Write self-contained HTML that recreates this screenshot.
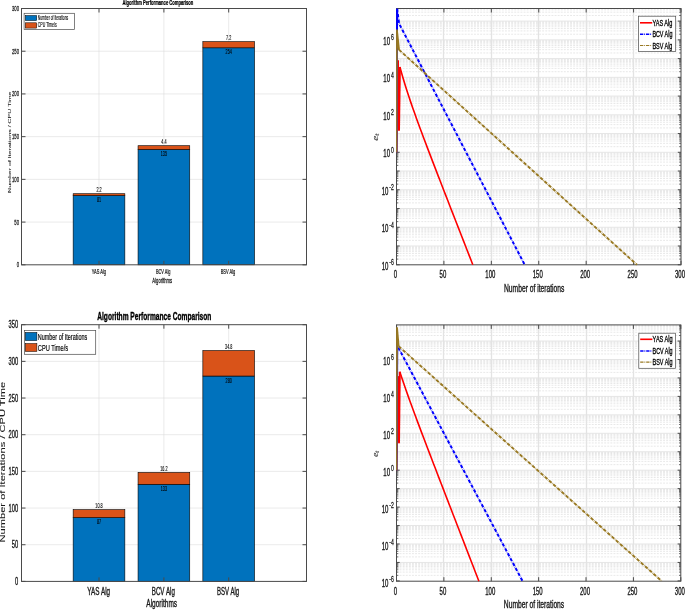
<!DOCTYPE html><html><head><meta charset="utf-8"><title>Algorithm Performance Comparison</title><style>html,body{margin:0;padding:0;background:#fff}svg{display:block}</style></head><body>
<svg width="685" height="611" viewBox="0 0 685 611">
<rect width="685" height="611" fill="#fff"/>
<line x1="21.5" y1="222.08" x2="306.5" y2="222.08" stroke="#dcdcdc" stroke-width="0.6"/>
<line x1="21.5" y1="179.37" x2="306.5" y2="179.37" stroke="#dcdcdc" stroke-width="0.6"/>
<line x1="21.5" y1="136.65" x2="306.5" y2="136.65" stroke="#dcdcdc" stroke-width="0.6"/>
<line x1="21.5" y1="93.93" x2="306.5" y2="93.93" stroke="#dcdcdc" stroke-width="0.6"/>
<line x1="21.5" y1="51.22" x2="306.5" y2="51.22" stroke="#dcdcdc" stroke-width="0.6"/>
<line x1="99.0" y1="8.5" x2="99.0" y2="264.8" stroke="#dcdcdc" stroke-width="0.6"/>
<line x1="163.9" y1="8.5" x2="163.9" y2="264.8" stroke="#dcdcdc" stroke-width="0.6"/>
<line x1="228.7" y1="8.5" x2="228.7" y2="264.8" stroke="#dcdcdc" stroke-width="0.6"/>
<rect x="73.15" y="195.60" width="51.7" height="69.20" fill="#0072BD" stroke="#000" stroke-width="0.6"/>
<rect x="73.15" y="193.72" width="51.7" height="1.88" fill="#D95319" stroke="#000" stroke-width="0.6"/>
<text transform="translate(99.00,191.72) scale(0.5500,1.0)" font-family='"Liberation Sans", sans-serif' font-size="6.8" text-anchor="middle" fill="#000" stroke="#000" stroke-width="0.12">2.2</text>
<text transform="translate(99.00,202.00) scale(0.5500,1.0)" font-family='"Liberation Sans", sans-serif' font-size="6.8" text-anchor="middle" fill="#000" stroke="#000" stroke-width="0.12">81</text>
<rect x="138.05" y="149.47" width="51.7" height="115.34" fill="#0072BD" stroke="#000" stroke-width="0.6"/>
<rect x="138.05" y="145.71" width="51.7" height="3.76" fill="#D95319" stroke="#000" stroke-width="0.6"/>
<text transform="translate(163.90,143.71) scale(0.5500,1.0)" font-family='"Liberation Sans", sans-serif' font-size="6.8" text-anchor="middle" fill="#000" stroke="#000" stroke-width="0.12">4.4</text>
<text transform="translate(163.90,155.87) scale(0.5500,1.0)" font-family='"Liberation Sans", sans-serif' font-size="6.8" text-anchor="middle" fill="#000" stroke="#000" stroke-width="0.12">135</text>
<rect x="202.85" y="47.80" width="51.7" height="217.00" fill="#0072BD" stroke="#000" stroke-width="0.6"/>
<rect x="202.85" y="41.65" width="51.7" height="6.15" fill="#D95319" stroke="#000" stroke-width="0.6"/>
<text transform="translate(228.70,39.65) scale(0.5500,1.0)" font-family='"Liberation Sans", sans-serif' font-size="6.8" text-anchor="middle" fill="#000" stroke="#000" stroke-width="0.12">7.2</text>
<text transform="translate(228.70,54.20) scale(0.5500,1.0)" font-family='"Liberation Sans", sans-serif' font-size="6.8" text-anchor="middle" fill="#000" stroke="#000" stroke-width="0.12">254</text>
<rect x="21.5" y="8.5" width="285.0" height="256.3" fill="none" stroke="#4a4a4a" stroke-width="1.0"/>
<line x1="21.5" y1="264.80" x2="25.5" y2="264.80" stroke="#4a4a4a" stroke-width="1.0"/>
<line x1="306.5" y1="264.80" x2="302.5" y2="264.80" stroke="#4a4a4a" stroke-width="1.0"/>
<text transform="translate(19.00,267.34) scale(0.5900,1.0)" font-family='"Liberation Sans", sans-serif' font-size="7.1" text-anchor="end" fill="#1a1a1a" stroke="#1a1a1a" stroke-width="0.256">0</text>
<line x1="21.5" y1="222.08" x2="25.5" y2="222.08" stroke="#4a4a4a" stroke-width="1.0"/>
<line x1="306.5" y1="222.08" x2="302.5" y2="222.08" stroke="#4a4a4a" stroke-width="1.0"/>
<text transform="translate(19.00,224.63) scale(0.5900,1.0)" font-family='"Liberation Sans", sans-serif' font-size="7.1" text-anchor="end" fill="#1a1a1a" stroke="#1a1a1a" stroke-width="0.256">50</text>
<line x1="21.5" y1="179.37" x2="25.5" y2="179.37" stroke="#4a4a4a" stroke-width="1.0"/>
<line x1="306.5" y1="179.37" x2="302.5" y2="179.37" stroke="#4a4a4a" stroke-width="1.0"/>
<text transform="translate(19.00,181.91) scale(0.5900,1.0)" font-family='"Liberation Sans", sans-serif' font-size="7.1" text-anchor="end" fill="#1a1a1a" stroke="#1a1a1a" stroke-width="0.256">100</text>
<line x1="21.5" y1="136.65" x2="25.5" y2="136.65" stroke="#4a4a4a" stroke-width="1.0"/>
<line x1="306.5" y1="136.65" x2="302.5" y2="136.65" stroke="#4a4a4a" stroke-width="1.0"/>
<text transform="translate(19.00,139.19) scale(0.5900,1.0)" font-family='"Liberation Sans", sans-serif' font-size="7.1" text-anchor="end" fill="#1a1a1a" stroke="#1a1a1a" stroke-width="0.256">150</text>
<line x1="21.5" y1="93.93" x2="25.5" y2="93.93" stroke="#4a4a4a" stroke-width="1.0"/>
<line x1="306.5" y1="93.93" x2="302.5" y2="93.93" stroke="#4a4a4a" stroke-width="1.0"/>
<text transform="translate(19.00,96.48) scale(0.5900,1.0)" font-family='"Liberation Sans", sans-serif' font-size="7.1" text-anchor="end" fill="#1a1a1a" stroke="#1a1a1a" stroke-width="0.256">200</text>
<line x1="21.5" y1="51.22" x2="25.5" y2="51.22" stroke="#4a4a4a" stroke-width="1.0"/>
<line x1="306.5" y1="51.22" x2="302.5" y2="51.22" stroke="#4a4a4a" stroke-width="1.0"/>
<text transform="translate(19.00,53.76) scale(0.5900,1.0)" font-family='"Liberation Sans", sans-serif' font-size="7.1" text-anchor="end" fill="#1a1a1a" stroke="#1a1a1a" stroke-width="0.256">250</text>
<line x1="21.5" y1="8.50" x2="25.5" y2="8.50" stroke="#4a4a4a" stroke-width="1.0"/>
<line x1="306.5" y1="8.50" x2="302.5" y2="8.50" stroke="#4a4a4a" stroke-width="1.0"/>
<text transform="translate(19.00,11.04) scale(0.5900,1.0)" font-family='"Liberation Sans", sans-serif' font-size="7.1" text-anchor="end" fill="#1a1a1a" stroke="#1a1a1a" stroke-width="0.256">300</text>
<line x1="99.0" y1="264.8" x2="99.0" y2="260.8" stroke="#4a4a4a" stroke-width="1.0"/>
<line x1="99.0" y1="8.5" x2="99.0" y2="12.5" stroke="#4a4a4a" stroke-width="1.0"/>
<text transform="translate(98.80,273.80) scale(0.5765,1.0)" font-family='"Liberation Sans", sans-serif' font-size="6.9" text-anchor="middle" fill="#1a1a1a" stroke="#1a1a1a" stroke-width="0.248">YAS Alg</text>
<line x1="163.9" y1="264.8" x2="163.9" y2="260.8" stroke="#4a4a4a" stroke-width="1.0"/>
<line x1="163.9" y1="8.5" x2="163.9" y2="12.5" stroke="#4a4a4a" stroke-width="1.0"/>
<text transform="translate(163.20,273.80) scale(0.5604,1.0)" font-family='"Liberation Sans", sans-serif' font-size="6.9" text-anchor="middle" fill="#1a1a1a" stroke="#1a1a1a" stroke-width="0.248">BCV Alg</text>
<line x1="228.7" y1="264.8" x2="228.7" y2="260.8" stroke="#4a4a4a" stroke-width="1.0"/>
<line x1="228.7" y1="8.5" x2="228.7" y2="12.5" stroke="#4a4a4a" stroke-width="1.0"/>
<text transform="translate(228.00,273.80) scale(0.5767,1.0)" font-family='"Liberation Sans", sans-serif' font-size="6.9" text-anchor="middle" fill="#1a1a1a" stroke="#1a1a1a" stroke-width="0.248">BSV Alg</text>
<text transform="translate(162.20,282.70) scale(0.5636,1.0)" font-family='"Liberation Sans", sans-serif' font-size="7.4" text-anchor="middle" fill="#1a1a1a" stroke="#1a1a1a" stroke-width="0.266">Algorithms</text>
<text transform="translate(157.90,5.10) scale(0.6062,1.0)" font-family='"Liberation Sans", sans-serif' font-size="6.8" font-weight="bold" text-anchor="middle" fill="#000" stroke="#000" stroke-width="0.245">Algorithm Performance Comparison</text>
<text transform="translate(10.80,142.20) rotate(-90) scale(1.0002,0.58)" font-family='"Liberation Sans", sans-serif' font-size="7.03" text-anchor="middle" fill="#1a1a1a" stroke="#1a1a1a" stroke-width="0.12">Number of Iterations / CPU Time</text>
<rect x="24.1" y="13.3" width="50.49999999999999" height="16.3" fill="#fff" stroke="#4a4a4a" stroke-width="0.7"/>
<rect x="25.3" y="15.5" width="11.40" height="5.10" fill="#0072BD" stroke="#000" stroke-width="0.5"/>
<text transform="translate(37.80,20.20) scale(0.5344,1.0)" font-family='"Liberation Sans", sans-serif' font-size="6.3" text-anchor="start" fill="#000" stroke="#000" stroke-width="0.126">Number of Iterations</text>
<rect x="25.3" y="22.8" width="11.40" height="5.30" fill="#D95319" stroke="#000" stroke-width="0.5"/>
<text transform="translate(37.80,27.40) scale(0.5624,1.0)" font-family='"Liberation Sans", sans-serif' font-size="6.3" text-anchor="start" fill="#000" stroke="#000" stroke-width="0.126">CPU Time/s</text>
<line x1="21.5" y1="544.73" x2="306.5" y2="544.73" stroke="#dcdcdc" stroke-width="0.6"/>
<line x1="21.5" y1="508.06" x2="306.5" y2="508.06" stroke="#dcdcdc" stroke-width="0.6"/>
<line x1="21.5" y1="471.39" x2="306.5" y2="471.39" stroke="#dcdcdc" stroke-width="0.6"/>
<line x1="21.5" y1="434.71" x2="306.5" y2="434.71" stroke="#dcdcdc" stroke-width="0.6"/>
<line x1="21.5" y1="398.04" x2="306.5" y2="398.04" stroke="#dcdcdc" stroke-width="0.6"/>
<line x1="21.5" y1="361.37" x2="306.5" y2="361.37" stroke="#dcdcdc" stroke-width="0.6"/>
<line x1="99.0" y1="324.7" x2="99.0" y2="581.4" stroke="#dcdcdc" stroke-width="0.6"/>
<line x1="163.9" y1="324.7" x2="163.9" y2="581.4" stroke="#dcdcdc" stroke-width="0.6"/>
<line x1="228.7" y1="324.7" x2="228.7" y2="581.4" stroke="#dcdcdc" stroke-width="0.6"/>
<rect x="73.15" y="517.59" width="51.7" height="63.81" fill="#0072BD" stroke="#000" stroke-width="0.6"/>
<rect x="73.15" y="509.67" width="51.7" height="7.92" fill="#D95319" stroke="#000" stroke-width="0.6"/>
<text transform="translate(99.00,508.37) scale(0.5500,1.0)" font-family='"Liberation Sans", sans-serif' font-size="6.8" text-anchor="middle" fill="#000" stroke="#000" stroke-width="0.12">10.8</text>
<text transform="translate(99.00,524.09) scale(0.5500,1.0)" font-family='"Liberation Sans", sans-serif' font-size="6.8" text-anchor="middle" fill="#000" stroke="#000" stroke-width="0.12">87</text>
<rect x="138.05" y="484.29" width="51.7" height="97.11" fill="#0072BD" stroke="#000" stroke-width="0.6"/>
<rect x="138.05" y="472.41" width="51.7" height="11.88" fill="#D95319" stroke="#000" stroke-width="0.6"/>
<text transform="translate(163.90,471.11) scale(0.5500,1.0)" font-family='"Liberation Sans", sans-serif' font-size="6.8" text-anchor="middle" fill="#000" stroke="#000" stroke-width="0.12">16.2</text>
<text transform="translate(163.90,490.79) scale(0.5500,1.0)" font-family='"Liberation Sans", sans-serif' font-size="6.8" text-anchor="middle" fill="#000" stroke="#000" stroke-width="0.12">133</text>
<rect x="202.85" y="376.04" width="51.7" height="205.36" fill="#0072BD" stroke="#000" stroke-width="0.6"/>
<rect x="202.85" y="350.52" width="51.7" height="25.52" fill="#D95319" stroke="#000" stroke-width="0.6"/>
<text transform="translate(228.70,349.22) scale(0.5500,1.0)" font-family='"Liberation Sans", sans-serif' font-size="6.8" text-anchor="middle" fill="#000" stroke="#000" stroke-width="0.12">34.8</text>
<text transform="translate(228.70,382.54) scale(0.5500,1.0)" font-family='"Liberation Sans", sans-serif' font-size="6.8" text-anchor="middle" fill="#000" stroke="#000" stroke-width="0.12">280</text>
<rect x="21.5" y="324.7" width="285.0" height="256.7" fill="none" stroke="#4a4a4a" stroke-width="1.0"/>
<line x1="21.5" y1="581.40" x2="25.5" y2="581.40" stroke="#4a4a4a" stroke-width="1.0"/>
<line x1="306.5" y1="581.40" x2="302.5" y2="581.40" stroke="#4a4a4a" stroke-width="1.0"/>
<text transform="translate(18.20,585.05) scale(0.5650,1.0)" font-family='"Liberation Sans", sans-serif' font-size="10.2" text-anchor="end" fill="#1a1a1a" stroke="#1a1a1a" stroke-width="0.367">0</text>
<line x1="21.5" y1="544.73" x2="25.5" y2="544.73" stroke="#4a4a4a" stroke-width="1.0"/>
<line x1="306.5" y1="544.73" x2="302.5" y2="544.73" stroke="#4a4a4a" stroke-width="1.0"/>
<text transform="translate(18.20,548.38) scale(0.5650,1.0)" font-family='"Liberation Sans", sans-serif' font-size="10.2" text-anchor="end" fill="#1a1a1a" stroke="#1a1a1a" stroke-width="0.367">50</text>
<line x1="21.5" y1="508.06" x2="25.5" y2="508.06" stroke="#4a4a4a" stroke-width="1.0"/>
<line x1="306.5" y1="508.06" x2="302.5" y2="508.06" stroke="#4a4a4a" stroke-width="1.0"/>
<text transform="translate(18.20,511.71) scale(0.5650,1.0)" font-family='"Liberation Sans", sans-serif' font-size="10.2" text-anchor="end" fill="#1a1a1a" stroke="#1a1a1a" stroke-width="0.367">100</text>
<line x1="21.5" y1="471.39" x2="25.5" y2="471.39" stroke="#4a4a4a" stroke-width="1.0"/>
<line x1="306.5" y1="471.39" x2="302.5" y2="471.39" stroke="#4a4a4a" stroke-width="1.0"/>
<text transform="translate(18.20,475.04) scale(0.5650,1.0)" font-family='"Liberation Sans", sans-serif' font-size="10.2" text-anchor="end" fill="#1a1a1a" stroke="#1a1a1a" stroke-width="0.367">150</text>
<line x1="21.5" y1="434.71" x2="25.5" y2="434.71" stroke="#4a4a4a" stroke-width="1.0"/>
<line x1="306.5" y1="434.71" x2="302.5" y2="434.71" stroke="#4a4a4a" stroke-width="1.0"/>
<text transform="translate(18.20,438.37) scale(0.5650,1.0)" font-family='"Liberation Sans", sans-serif' font-size="10.2" text-anchor="end" fill="#1a1a1a" stroke="#1a1a1a" stroke-width="0.367">200</text>
<line x1="21.5" y1="398.04" x2="25.5" y2="398.04" stroke="#4a4a4a" stroke-width="1.0"/>
<line x1="306.5" y1="398.04" x2="302.5" y2="398.04" stroke="#4a4a4a" stroke-width="1.0"/>
<text transform="translate(18.20,401.69) scale(0.5650,1.0)" font-family='"Liberation Sans", sans-serif' font-size="10.2" text-anchor="end" fill="#1a1a1a" stroke="#1a1a1a" stroke-width="0.367">250</text>
<line x1="21.5" y1="361.37" x2="25.5" y2="361.37" stroke="#4a4a4a" stroke-width="1.0"/>
<line x1="306.5" y1="361.37" x2="302.5" y2="361.37" stroke="#4a4a4a" stroke-width="1.0"/>
<text transform="translate(18.20,365.02) scale(0.5650,1.0)" font-family='"Liberation Sans", sans-serif' font-size="10.2" text-anchor="end" fill="#1a1a1a" stroke="#1a1a1a" stroke-width="0.367">300</text>
<line x1="21.5" y1="324.70" x2="25.5" y2="324.70" stroke="#4a4a4a" stroke-width="1.0"/>
<line x1="306.5" y1="324.70" x2="302.5" y2="324.70" stroke="#4a4a4a" stroke-width="1.0"/>
<text transform="translate(18.20,328.35) scale(0.5650,1.0)" font-family='"Liberation Sans", sans-serif' font-size="10.2" text-anchor="end" fill="#1a1a1a" stroke="#1a1a1a" stroke-width="0.367">350</text>
<line x1="99.0" y1="581.4" x2="99.0" y2="577.4" stroke="#4a4a4a" stroke-width="1.0"/>
<line x1="99.0" y1="324.7" x2="99.0" y2="328.7" stroke="#4a4a4a" stroke-width="1.0"/>
<text transform="translate(98.70,594.50) scale(0.6158,1.0)" font-family='"Liberation Sans", sans-serif' font-size="10.3" text-anchor="middle" fill="#1a1a1a" stroke="#1a1a1a" stroke-width="0.371">YAS Alg</text>
<line x1="163.9" y1="581.4" x2="163.9" y2="577.4" stroke="#4a4a4a" stroke-width="1.0"/>
<line x1="163.9" y1="324.7" x2="163.9" y2="328.7" stroke="#4a4a4a" stroke-width="1.0"/>
<text transform="translate(163.30,594.50) scale(0.6022,1.0)" font-family='"Liberation Sans", sans-serif' font-size="10.3" text-anchor="middle" fill="#1a1a1a" stroke="#1a1a1a" stroke-width="0.371">BCV Alg</text>
<line x1="228.7" y1="581.4" x2="228.7" y2="577.4" stroke="#4a4a4a" stroke-width="1.0"/>
<line x1="228.7" y1="324.7" x2="228.7" y2="328.7" stroke="#4a4a4a" stroke-width="1.0"/>
<text transform="translate(228.10,594.50) scale(0.5874,1.0)" font-family='"Liberation Sans", sans-serif' font-size="10.3" text-anchor="middle" fill="#1a1a1a" stroke="#1a1a1a" stroke-width="0.371">BSV Alg</text>
<text transform="translate(161.70,606.90) scale(0.6037,1.0)" font-family='"Liberation Sans", sans-serif' font-size="10.8" text-anchor="middle" fill="#1a1a1a" stroke="#1a1a1a" stroke-width="0.389">Algorithms</text>
<text transform="translate(154.30,319.80) scale(0.6260,1.0)" font-family='"Liberation Sans", sans-serif' font-size="10.6" font-weight="bold" text-anchor="middle" fill="#000" stroke="#000" stroke-width="0.382">Algorithm Performance Comparison</text>
<text transform="translate(5.40,462.20) rotate(-90) scale(1.0026,0.58)" font-family='"Liberation Sans", sans-serif' font-size="11.1" text-anchor="middle" fill="#1a1a1a" stroke="#1a1a1a" stroke-width="0.12">Number of Iterations / CPU Time</text>
<rect x="24.4" y="330.4" width="71.30000000000001" height="23.900000000000034" fill="#fff" stroke="#4a4a4a" stroke-width="0.7"/>
<rect x="25.3" y="332.4" width="11.60" height="8.20" fill="#0072BD" stroke="#000" stroke-width="0.5"/>
<text transform="translate(37.80,339.70) scale(0.6059,1.0)" font-family='"Liberation Sans", sans-serif' font-size="9.0" text-anchor="start" fill="#000" stroke="#000" stroke-width="0.18">Number of Iterations</text>
<rect x="25.3" y="343.5" width="11.60" height="8.00" fill="#D95319" stroke="#000" stroke-width="0.5"/>
<text transform="translate(37.80,350.70) scale(0.6312,1.0)" font-family='"Liberation Sans", sans-serif' font-size="9.0" text-anchor="start" fill="#000" stroke="#000" stroke-width="0.18">CPU Time/s</text>
<line x1="396.5" y1="259.10" x2="681.0" y2="259.10" stroke="#d0d0d0" stroke-width="0.5" stroke-dasharray="1.9 1.2"/>
<line x1="396.5" y1="255.80" x2="681.0" y2="255.80" stroke="#d0d0d0" stroke-width="0.5" stroke-dasharray="1.9 1.2"/>
<line x1="396.5" y1="253.46" x2="681.0" y2="253.46" stroke="#d0d0d0" stroke-width="0.5" stroke-dasharray="1.9 1.2"/>
<line x1="396.5" y1="251.64" x2="681.0" y2="251.64" stroke="#d0d0d0" stroke-width="0.5" stroke-dasharray="1.9 1.2"/>
<line x1="396.5" y1="250.16" x2="681.0" y2="250.16" stroke="#d0d0d0" stroke-width="0.5" stroke-dasharray="1.9 1.2"/>
<line x1="396.5" y1="248.90" x2="681.0" y2="248.90" stroke="#d0d0d0" stroke-width="0.5" stroke-dasharray="1.9 1.2"/>
<line x1="396.5" y1="247.82" x2="681.0" y2="247.82" stroke="#d0d0d0" stroke-width="0.5" stroke-dasharray="1.9 1.2"/>
<line x1="396.5" y1="246.86" x2="681.0" y2="246.86" stroke="#d0d0d0" stroke-width="0.5" stroke-dasharray="1.9 1.2"/>
<line x1="396.5" y1="240.36" x2="681.0" y2="240.36" stroke="#d0d0d0" stroke-width="0.5" stroke-dasharray="1.9 1.2"/>
<line x1="396.5" y1="237.06" x2="681.0" y2="237.06" stroke="#d0d0d0" stroke-width="0.5" stroke-dasharray="1.9 1.2"/>
<line x1="396.5" y1="234.72" x2="681.0" y2="234.72" stroke="#d0d0d0" stroke-width="0.5" stroke-dasharray="1.9 1.2"/>
<line x1="396.5" y1="232.90" x2="681.0" y2="232.90" stroke="#d0d0d0" stroke-width="0.5" stroke-dasharray="1.9 1.2"/>
<line x1="396.5" y1="231.42" x2="681.0" y2="231.42" stroke="#d0d0d0" stroke-width="0.5" stroke-dasharray="1.9 1.2"/>
<line x1="396.5" y1="230.16" x2="681.0" y2="230.16" stroke="#d0d0d0" stroke-width="0.5" stroke-dasharray="1.9 1.2"/>
<line x1="396.5" y1="229.08" x2="681.0" y2="229.08" stroke="#d0d0d0" stroke-width="0.5" stroke-dasharray="1.9 1.2"/>
<line x1="396.5" y1="228.12" x2="681.0" y2="228.12" stroke="#d0d0d0" stroke-width="0.5" stroke-dasharray="1.9 1.2"/>
<line x1="396.5" y1="221.62" x2="681.0" y2="221.62" stroke="#d0d0d0" stroke-width="0.5" stroke-dasharray="1.9 1.2"/>
<line x1="396.5" y1="218.32" x2="681.0" y2="218.32" stroke="#d0d0d0" stroke-width="0.5" stroke-dasharray="1.9 1.2"/>
<line x1="396.5" y1="215.98" x2="681.0" y2="215.98" stroke="#d0d0d0" stroke-width="0.5" stroke-dasharray="1.9 1.2"/>
<line x1="396.5" y1="214.16" x2="681.0" y2="214.16" stroke="#d0d0d0" stroke-width="0.5" stroke-dasharray="1.9 1.2"/>
<line x1="396.5" y1="212.68" x2="681.0" y2="212.68" stroke="#d0d0d0" stroke-width="0.5" stroke-dasharray="1.9 1.2"/>
<line x1="396.5" y1="211.42" x2="681.0" y2="211.42" stroke="#d0d0d0" stroke-width="0.5" stroke-dasharray="1.9 1.2"/>
<line x1="396.5" y1="210.34" x2="681.0" y2="210.34" stroke="#d0d0d0" stroke-width="0.5" stroke-dasharray="1.9 1.2"/>
<line x1="396.5" y1="209.38" x2="681.0" y2="209.38" stroke="#d0d0d0" stroke-width="0.5" stroke-dasharray="1.9 1.2"/>
<line x1="396.5" y1="202.88" x2="681.0" y2="202.88" stroke="#d0d0d0" stroke-width="0.5" stroke-dasharray="1.9 1.2"/>
<line x1="396.5" y1="199.58" x2="681.0" y2="199.58" stroke="#d0d0d0" stroke-width="0.5" stroke-dasharray="1.9 1.2"/>
<line x1="396.5" y1="197.24" x2="681.0" y2="197.24" stroke="#d0d0d0" stroke-width="0.5" stroke-dasharray="1.9 1.2"/>
<line x1="396.5" y1="195.42" x2="681.0" y2="195.42" stroke="#d0d0d0" stroke-width="0.5" stroke-dasharray="1.9 1.2"/>
<line x1="396.5" y1="193.94" x2="681.0" y2="193.94" stroke="#d0d0d0" stroke-width="0.5" stroke-dasharray="1.9 1.2"/>
<line x1="396.5" y1="192.68" x2="681.0" y2="192.68" stroke="#d0d0d0" stroke-width="0.5" stroke-dasharray="1.9 1.2"/>
<line x1="396.5" y1="191.60" x2="681.0" y2="191.60" stroke="#d0d0d0" stroke-width="0.5" stroke-dasharray="1.9 1.2"/>
<line x1="396.5" y1="190.64" x2="681.0" y2="190.64" stroke="#d0d0d0" stroke-width="0.5" stroke-dasharray="1.9 1.2"/>
<line x1="396.5" y1="184.14" x2="681.0" y2="184.14" stroke="#d0d0d0" stroke-width="0.5" stroke-dasharray="1.9 1.2"/>
<line x1="396.5" y1="180.84" x2="681.0" y2="180.84" stroke="#d0d0d0" stroke-width="0.5" stroke-dasharray="1.9 1.2"/>
<line x1="396.5" y1="178.50" x2="681.0" y2="178.50" stroke="#d0d0d0" stroke-width="0.5" stroke-dasharray="1.9 1.2"/>
<line x1="396.5" y1="176.68" x2="681.0" y2="176.68" stroke="#d0d0d0" stroke-width="0.5" stroke-dasharray="1.9 1.2"/>
<line x1="396.5" y1="175.20" x2="681.0" y2="175.20" stroke="#d0d0d0" stroke-width="0.5" stroke-dasharray="1.9 1.2"/>
<line x1="396.5" y1="173.94" x2="681.0" y2="173.94" stroke="#d0d0d0" stroke-width="0.5" stroke-dasharray="1.9 1.2"/>
<line x1="396.5" y1="172.86" x2="681.0" y2="172.86" stroke="#d0d0d0" stroke-width="0.5" stroke-dasharray="1.9 1.2"/>
<line x1="396.5" y1="171.90" x2="681.0" y2="171.90" stroke="#d0d0d0" stroke-width="0.5" stroke-dasharray="1.9 1.2"/>
<line x1="396.5" y1="165.40" x2="681.0" y2="165.40" stroke="#d0d0d0" stroke-width="0.5" stroke-dasharray="1.9 1.2"/>
<line x1="396.5" y1="162.10" x2="681.0" y2="162.10" stroke="#d0d0d0" stroke-width="0.5" stroke-dasharray="1.9 1.2"/>
<line x1="396.5" y1="159.76" x2="681.0" y2="159.76" stroke="#d0d0d0" stroke-width="0.5" stroke-dasharray="1.9 1.2"/>
<line x1="396.5" y1="157.94" x2="681.0" y2="157.94" stroke="#d0d0d0" stroke-width="0.5" stroke-dasharray="1.9 1.2"/>
<line x1="396.5" y1="156.46" x2="681.0" y2="156.46" stroke="#d0d0d0" stroke-width="0.5" stroke-dasharray="1.9 1.2"/>
<line x1="396.5" y1="155.20" x2="681.0" y2="155.20" stroke="#d0d0d0" stroke-width="0.5" stroke-dasharray="1.9 1.2"/>
<line x1="396.5" y1="154.12" x2="681.0" y2="154.12" stroke="#d0d0d0" stroke-width="0.5" stroke-dasharray="1.9 1.2"/>
<line x1="396.5" y1="153.16" x2="681.0" y2="153.16" stroke="#d0d0d0" stroke-width="0.5" stroke-dasharray="1.9 1.2"/>
<line x1="396.5" y1="146.66" x2="681.0" y2="146.66" stroke="#d0d0d0" stroke-width="0.5" stroke-dasharray="1.9 1.2"/>
<line x1="396.5" y1="143.36" x2="681.0" y2="143.36" stroke="#d0d0d0" stroke-width="0.5" stroke-dasharray="1.9 1.2"/>
<line x1="396.5" y1="141.02" x2="681.0" y2="141.02" stroke="#d0d0d0" stroke-width="0.5" stroke-dasharray="1.9 1.2"/>
<line x1="396.5" y1="139.20" x2="681.0" y2="139.20" stroke="#d0d0d0" stroke-width="0.5" stroke-dasharray="1.9 1.2"/>
<line x1="396.5" y1="137.72" x2="681.0" y2="137.72" stroke="#d0d0d0" stroke-width="0.5" stroke-dasharray="1.9 1.2"/>
<line x1="396.5" y1="136.46" x2="681.0" y2="136.46" stroke="#d0d0d0" stroke-width="0.5" stroke-dasharray="1.9 1.2"/>
<line x1="396.5" y1="135.38" x2="681.0" y2="135.38" stroke="#d0d0d0" stroke-width="0.5" stroke-dasharray="1.9 1.2"/>
<line x1="396.5" y1="134.42" x2="681.0" y2="134.42" stroke="#d0d0d0" stroke-width="0.5" stroke-dasharray="1.9 1.2"/>
<line x1="396.5" y1="127.92" x2="681.0" y2="127.92" stroke="#d0d0d0" stroke-width="0.5" stroke-dasharray="1.9 1.2"/>
<line x1="396.5" y1="124.62" x2="681.0" y2="124.62" stroke="#d0d0d0" stroke-width="0.5" stroke-dasharray="1.9 1.2"/>
<line x1="396.5" y1="122.28" x2="681.0" y2="122.28" stroke="#d0d0d0" stroke-width="0.5" stroke-dasharray="1.9 1.2"/>
<line x1="396.5" y1="120.46" x2="681.0" y2="120.46" stroke="#d0d0d0" stroke-width="0.5" stroke-dasharray="1.9 1.2"/>
<line x1="396.5" y1="118.98" x2="681.0" y2="118.98" stroke="#d0d0d0" stroke-width="0.5" stroke-dasharray="1.9 1.2"/>
<line x1="396.5" y1="117.72" x2="681.0" y2="117.72" stroke="#d0d0d0" stroke-width="0.5" stroke-dasharray="1.9 1.2"/>
<line x1="396.5" y1="116.64" x2="681.0" y2="116.64" stroke="#d0d0d0" stroke-width="0.5" stroke-dasharray="1.9 1.2"/>
<line x1="396.5" y1="115.68" x2="681.0" y2="115.68" stroke="#d0d0d0" stroke-width="0.5" stroke-dasharray="1.9 1.2"/>
<line x1="396.5" y1="109.18" x2="681.0" y2="109.18" stroke="#d0d0d0" stroke-width="0.5" stroke-dasharray="1.9 1.2"/>
<line x1="396.5" y1="105.88" x2="681.0" y2="105.88" stroke="#d0d0d0" stroke-width="0.5" stroke-dasharray="1.9 1.2"/>
<line x1="396.5" y1="103.54" x2="681.0" y2="103.54" stroke="#d0d0d0" stroke-width="0.5" stroke-dasharray="1.9 1.2"/>
<line x1="396.5" y1="101.72" x2="681.0" y2="101.72" stroke="#d0d0d0" stroke-width="0.5" stroke-dasharray="1.9 1.2"/>
<line x1="396.5" y1="100.24" x2="681.0" y2="100.24" stroke="#d0d0d0" stroke-width="0.5" stroke-dasharray="1.9 1.2"/>
<line x1="396.5" y1="98.98" x2="681.0" y2="98.98" stroke="#d0d0d0" stroke-width="0.5" stroke-dasharray="1.9 1.2"/>
<line x1="396.5" y1="97.90" x2="681.0" y2="97.90" stroke="#d0d0d0" stroke-width="0.5" stroke-dasharray="1.9 1.2"/>
<line x1="396.5" y1="96.94" x2="681.0" y2="96.94" stroke="#d0d0d0" stroke-width="0.5" stroke-dasharray="1.9 1.2"/>
<line x1="396.5" y1="90.44" x2="681.0" y2="90.44" stroke="#d0d0d0" stroke-width="0.5" stroke-dasharray="1.9 1.2"/>
<line x1="396.5" y1="87.14" x2="681.0" y2="87.14" stroke="#d0d0d0" stroke-width="0.5" stroke-dasharray="1.9 1.2"/>
<line x1="396.5" y1="84.80" x2="681.0" y2="84.80" stroke="#d0d0d0" stroke-width="0.5" stroke-dasharray="1.9 1.2"/>
<line x1="396.5" y1="82.98" x2="681.0" y2="82.98" stroke="#d0d0d0" stroke-width="0.5" stroke-dasharray="1.9 1.2"/>
<line x1="396.5" y1="81.50" x2="681.0" y2="81.50" stroke="#d0d0d0" stroke-width="0.5" stroke-dasharray="1.9 1.2"/>
<line x1="396.5" y1="80.24" x2="681.0" y2="80.24" stroke="#d0d0d0" stroke-width="0.5" stroke-dasharray="1.9 1.2"/>
<line x1="396.5" y1="79.16" x2="681.0" y2="79.16" stroke="#d0d0d0" stroke-width="0.5" stroke-dasharray="1.9 1.2"/>
<line x1="396.5" y1="78.20" x2="681.0" y2="78.20" stroke="#d0d0d0" stroke-width="0.5" stroke-dasharray="1.9 1.2"/>
<line x1="396.5" y1="71.70" x2="681.0" y2="71.70" stroke="#d0d0d0" stroke-width="0.5" stroke-dasharray="1.9 1.2"/>
<line x1="396.5" y1="68.40" x2="681.0" y2="68.40" stroke="#d0d0d0" stroke-width="0.5" stroke-dasharray="1.9 1.2"/>
<line x1="396.5" y1="66.06" x2="681.0" y2="66.06" stroke="#d0d0d0" stroke-width="0.5" stroke-dasharray="1.9 1.2"/>
<line x1="396.5" y1="64.24" x2="681.0" y2="64.24" stroke="#d0d0d0" stroke-width="0.5" stroke-dasharray="1.9 1.2"/>
<line x1="396.5" y1="62.76" x2="681.0" y2="62.76" stroke="#d0d0d0" stroke-width="0.5" stroke-dasharray="1.9 1.2"/>
<line x1="396.5" y1="61.50" x2="681.0" y2="61.50" stroke="#d0d0d0" stroke-width="0.5" stroke-dasharray="1.9 1.2"/>
<line x1="396.5" y1="60.42" x2="681.0" y2="60.42" stroke="#d0d0d0" stroke-width="0.5" stroke-dasharray="1.9 1.2"/>
<line x1="396.5" y1="59.46" x2="681.0" y2="59.46" stroke="#d0d0d0" stroke-width="0.5" stroke-dasharray="1.9 1.2"/>
<line x1="396.5" y1="52.96" x2="681.0" y2="52.96" stroke="#d0d0d0" stroke-width="0.5" stroke-dasharray="1.9 1.2"/>
<line x1="396.5" y1="49.66" x2="681.0" y2="49.66" stroke="#d0d0d0" stroke-width="0.5" stroke-dasharray="1.9 1.2"/>
<line x1="396.5" y1="47.32" x2="681.0" y2="47.32" stroke="#d0d0d0" stroke-width="0.5" stroke-dasharray="1.9 1.2"/>
<line x1="396.5" y1="45.50" x2="681.0" y2="45.50" stroke="#d0d0d0" stroke-width="0.5" stroke-dasharray="1.9 1.2"/>
<line x1="396.5" y1="44.02" x2="681.0" y2="44.02" stroke="#d0d0d0" stroke-width="0.5" stroke-dasharray="1.9 1.2"/>
<line x1="396.5" y1="42.76" x2="681.0" y2="42.76" stroke="#d0d0d0" stroke-width="0.5" stroke-dasharray="1.9 1.2"/>
<line x1="396.5" y1="41.68" x2="681.0" y2="41.68" stroke="#d0d0d0" stroke-width="0.5" stroke-dasharray="1.9 1.2"/>
<line x1="396.5" y1="40.72" x2="681.0" y2="40.72" stroke="#d0d0d0" stroke-width="0.5" stroke-dasharray="1.9 1.2"/>
<line x1="396.5" y1="34.22" x2="681.0" y2="34.22" stroke="#d0d0d0" stroke-width="0.5" stroke-dasharray="1.9 1.2"/>
<line x1="396.5" y1="30.92" x2="681.0" y2="30.92" stroke="#d0d0d0" stroke-width="0.5" stroke-dasharray="1.9 1.2"/>
<line x1="396.5" y1="28.58" x2="681.0" y2="28.58" stroke="#d0d0d0" stroke-width="0.5" stroke-dasharray="1.9 1.2"/>
<line x1="396.5" y1="26.76" x2="681.0" y2="26.76" stroke="#d0d0d0" stroke-width="0.5" stroke-dasharray="1.9 1.2"/>
<line x1="396.5" y1="25.28" x2="681.0" y2="25.28" stroke="#d0d0d0" stroke-width="0.5" stroke-dasharray="1.9 1.2"/>
<line x1="396.5" y1="24.02" x2="681.0" y2="24.02" stroke="#d0d0d0" stroke-width="0.5" stroke-dasharray="1.9 1.2"/>
<line x1="396.5" y1="22.94" x2="681.0" y2="22.94" stroke="#d0d0d0" stroke-width="0.5" stroke-dasharray="1.9 1.2"/>
<line x1="396.5" y1="21.98" x2="681.0" y2="21.98" stroke="#d0d0d0" stroke-width="0.5" stroke-dasharray="1.9 1.2"/>
<line x1="396.5" y1="15.48" x2="681.0" y2="15.48" stroke="#d0d0d0" stroke-width="0.5" stroke-dasharray="1.9 1.2"/>
<line x1="396.5" y1="12.18" x2="681.0" y2="12.18" stroke="#d0d0d0" stroke-width="0.5" stroke-dasharray="1.9 1.2"/>
<line x1="396.5" y1="9.84" x2="681.0" y2="9.84" stroke="#d0d0d0" stroke-width="0.5" stroke-dasharray="1.9 1.2"/>
<line x1="396.5" y1="246.00" x2="681.0" y2="246.00" stroke="#dcdcdc" stroke-width="0.75"/>
<line x1="396.5" y1="227.26" x2="681.0" y2="227.26" stroke="#dcdcdc" stroke-width="0.75"/>
<line x1="396.5" y1="208.52" x2="681.0" y2="208.52" stroke="#dcdcdc" stroke-width="0.75"/>
<line x1="396.5" y1="189.78" x2="681.0" y2="189.78" stroke="#dcdcdc" stroke-width="0.75"/>
<line x1="396.5" y1="171.04" x2="681.0" y2="171.04" stroke="#dcdcdc" stroke-width="0.75"/>
<line x1="396.5" y1="152.30" x2="681.0" y2="152.30" stroke="#dcdcdc" stroke-width="0.75"/>
<line x1="396.5" y1="133.56" x2="681.0" y2="133.56" stroke="#dcdcdc" stroke-width="0.75"/>
<line x1="396.5" y1="114.82" x2="681.0" y2="114.82" stroke="#dcdcdc" stroke-width="0.75"/>
<line x1="396.5" y1="96.08" x2="681.0" y2="96.08" stroke="#dcdcdc" stroke-width="0.75"/>
<line x1="396.5" y1="77.34" x2="681.0" y2="77.34" stroke="#dcdcdc" stroke-width="0.75"/>
<line x1="396.5" y1="58.60" x2="681.0" y2="58.60" stroke="#dcdcdc" stroke-width="0.75"/>
<line x1="396.5" y1="39.86" x2="681.0" y2="39.86" stroke="#dcdcdc" stroke-width="0.75"/>
<line x1="396.5" y1="21.12" x2="681.0" y2="21.12" stroke="#dcdcdc" stroke-width="0.75"/>
<line x1="443.50" y1="8.5" x2="443.50" y2="264.8" stroke="#e3e3e3" stroke-width="1.3"/>
<line x1="491.50" y1="8.5" x2="491.50" y2="264.8" stroke="#e3e3e3" stroke-width="1.3"/>
<line x1="538.50" y1="8.5" x2="538.50" y2="264.8" stroke="#e3e3e3" stroke-width="1.3"/>
<line x1="586.50" y1="8.5" x2="586.50" y2="264.8" stroke="#e3e3e3" stroke-width="1.3"/>
<line x1="633.50" y1="8.5" x2="633.50" y2="264.8" stroke="#e3e3e3" stroke-width="1.3"/>
<clipPath id="c8"><rect x="396.05" y="8.5" width="284.95" height="257.3"/></clipPath>
<rect x="396.5" y="8.5" width="284.5" height="256.3" fill="none" stroke="#4a4a4a" stroke-width="1.0"/>
<line x1="396.50" y1="264.8" x2="396.50" y2="260.8" stroke="#4a4a4a" stroke-width="1.0"/>
<line x1="396.50" y1="8.5" x2="396.50" y2="12.5" stroke="#4a4a4a" stroke-width="1.0"/>
<text transform="translate(395.50,278.40) scale(0.5750,1.0)" font-family='"Liberation Sans", sans-serif' font-size="10.4" text-anchor="middle" fill="#1a1a1a" stroke="#1a1a1a" stroke-width="0.374">0</text>
<line x1="443.92" y1="264.8" x2="443.92" y2="260.8" stroke="#4a4a4a" stroke-width="1.0"/>
<line x1="443.92" y1="8.5" x2="443.92" y2="12.5" stroke="#4a4a4a" stroke-width="1.0"/>
<text transform="translate(442.92,278.40) scale(0.5750,1.0)" font-family='"Liberation Sans", sans-serif' font-size="10.4" text-anchor="middle" fill="#1a1a1a" stroke="#1a1a1a" stroke-width="0.374">50</text>
<line x1="491.33" y1="264.8" x2="491.33" y2="260.8" stroke="#4a4a4a" stroke-width="1.0"/>
<line x1="491.33" y1="8.5" x2="491.33" y2="12.5" stroke="#4a4a4a" stroke-width="1.0"/>
<text transform="translate(490.33,278.40) scale(0.5750,1.0)" font-family='"Liberation Sans", sans-serif' font-size="10.4" text-anchor="middle" fill="#1a1a1a" stroke="#1a1a1a" stroke-width="0.374">100</text>
<line x1="538.75" y1="264.8" x2="538.75" y2="260.8" stroke="#4a4a4a" stroke-width="1.0"/>
<line x1="538.75" y1="8.5" x2="538.75" y2="12.5" stroke="#4a4a4a" stroke-width="1.0"/>
<text transform="translate(537.75,278.40) scale(0.5750,1.0)" font-family='"Liberation Sans", sans-serif' font-size="10.4" text-anchor="middle" fill="#1a1a1a" stroke="#1a1a1a" stroke-width="0.374">150</text>
<line x1="586.17" y1="264.8" x2="586.17" y2="260.8" stroke="#4a4a4a" stroke-width="1.0"/>
<line x1="586.17" y1="8.5" x2="586.17" y2="12.5" stroke="#4a4a4a" stroke-width="1.0"/>
<text transform="translate(585.17,278.40) scale(0.5750,1.0)" font-family='"Liberation Sans", sans-serif' font-size="10.4" text-anchor="middle" fill="#1a1a1a" stroke="#1a1a1a" stroke-width="0.374">200</text>
<line x1="633.58" y1="264.8" x2="633.58" y2="260.8" stroke="#4a4a4a" stroke-width="1.0"/>
<line x1="633.58" y1="8.5" x2="633.58" y2="12.5" stroke="#4a4a4a" stroke-width="1.0"/>
<text transform="translate(632.58,278.40) scale(0.5750,1.0)" font-family='"Liberation Sans", sans-serif' font-size="10.4" text-anchor="middle" fill="#1a1a1a" stroke="#1a1a1a" stroke-width="0.374">250</text>
<line x1="681.00" y1="264.8" x2="681.00" y2="260.8" stroke="#4a4a4a" stroke-width="1.0"/>
<line x1="681.00" y1="8.5" x2="681.00" y2="12.5" stroke="#4a4a4a" stroke-width="1.0"/>
<text transform="translate(680.00,278.40) scale(0.5750,1.0)" font-family='"Liberation Sans", sans-serif' font-size="10.4" text-anchor="middle" fill="#1a1a1a" stroke="#1a1a1a" stroke-width="0.374">300</text>
<line x1="396.5" y1="264.74" x2="399.7" y2="264.74" stroke="#4a4a4a" stroke-width="1.0"/>
<line x1="681.0" y1="264.74" x2="677.8" y2="264.74" stroke="#4a4a4a" stroke-width="1.0"/>
<line x1="396.5" y1="259.10" x2="398.3" y2="259.10" stroke="#4a4a4a" stroke-width="0.8"/>
<line x1="681.0" y1="259.10" x2="679.2" y2="259.10" stroke="#4a4a4a" stroke-width="0.8"/>
<line x1="396.5" y1="255.80" x2="398.3" y2="255.80" stroke="#4a4a4a" stroke-width="0.8"/>
<line x1="681.0" y1="255.80" x2="679.2" y2="255.80" stroke="#4a4a4a" stroke-width="0.8"/>
<line x1="396.5" y1="253.46" x2="398.3" y2="253.46" stroke="#4a4a4a" stroke-width="0.8"/>
<line x1="681.0" y1="253.46" x2="679.2" y2="253.46" stroke="#4a4a4a" stroke-width="0.8"/>
<line x1="396.5" y1="251.64" x2="398.3" y2="251.64" stroke="#4a4a4a" stroke-width="0.8"/>
<line x1="681.0" y1="251.64" x2="679.2" y2="251.64" stroke="#4a4a4a" stroke-width="0.8"/>
<line x1="396.5" y1="250.16" x2="398.3" y2="250.16" stroke="#4a4a4a" stroke-width="0.8"/>
<line x1="681.0" y1="250.16" x2="679.2" y2="250.16" stroke="#4a4a4a" stroke-width="0.8"/>
<line x1="396.5" y1="248.90" x2="398.3" y2="248.90" stroke="#4a4a4a" stroke-width="0.8"/>
<line x1="681.0" y1="248.90" x2="679.2" y2="248.90" stroke="#4a4a4a" stroke-width="0.8"/>
<line x1="396.5" y1="247.82" x2="398.3" y2="247.82" stroke="#4a4a4a" stroke-width="0.8"/>
<line x1="681.0" y1="247.82" x2="679.2" y2="247.82" stroke="#4a4a4a" stroke-width="0.8"/>
<line x1="396.5" y1="246.86" x2="398.3" y2="246.86" stroke="#4a4a4a" stroke-width="0.8"/>
<line x1="681.0" y1="246.86" x2="679.2" y2="246.86" stroke="#4a4a4a" stroke-width="0.8"/>
<line x1="396.5" y1="246.00" x2="399.7" y2="246.00" stroke="#4a4a4a" stroke-width="1.0"/>
<line x1="681.0" y1="246.00" x2="677.8" y2="246.00" stroke="#4a4a4a" stroke-width="1.0"/>
<line x1="396.5" y1="240.36" x2="398.3" y2="240.36" stroke="#4a4a4a" stroke-width="0.8"/>
<line x1="681.0" y1="240.36" x2="679.2" y2="240.36" stroke="#4a4a4a" stroke-width="0.8"/>
<line x1="396.5" y1="237.06" x2="398.3" y2="237.06" stroke="#4a4a4a" stroke-width="0.8"/>
<line x1="681.0" y1="237.06" x2="679.2" y2="237.06" stroke="#4a4a4a" stroke-width="0.8"/>
<line x1="396.5" y1="234.72" x2="398.3" y2="234.72" stroke="#4a4a4a" stroke-width="0.8"/>
<line x1="681.0" y1="234.72" x2="679.2" y2="234.72" stroke="#4a4a4a" stroke-width="0.8"/>
<line x1="396.5" y1="232.90" x2="398.3" y2="232.90" stroke="#4a4a4a" stroke-width="0.8"/>
<line x1="681.0" y1="232.90" x2="679.2" y2="232.90" stroke="#4a4a4a" stroke-width="0.8"/>
<line x1="396.5" y1="231.42" x2="398.3" y2="231.42" stroke="#4a4a4a" stroke-width="0.8"/>
<line x1="681.0" y1="231.42" x2="679.2" y2="231.42" stroke="#4a4a4a" stroke-width="0.8"/>
<line x1="396.5" y1="230.16" x2="398.3" y2="230.16" stroke="#4a4a4a" stroke-width="0.8"/>
<line x1="681.0" y1="230.16" x2="679.2" y2="230.16" stroke="#4a4a4a" stroke-width="0.8"/>
<line x1="396.5" y1="229.08" x2="398.3" y2="229.08" stroke="#4a4a4a" stroke-width="0.8"/>
<line x1="681.0" y1="229.08" x2="679.2" y2="229.08" stroke="#4a4a4a" stroke-width="0.8"/>
<line x1="396.5" y1="228.12" x2="398.3" y2="228.12" stroke="#4a4a4a" stroke-width="0.8"/>
<line x1="681.0" y1="228.12" x2="679.2" y2="228.12" stroke="#4a4a4a" stroke-width="0.8"/>
<line x1="396.5" y1="227.26" x2="399.7" y2="227.26" stroke="#4a4a4a" stroke-width="1.0"/>
<line x1="681.0" y1="227.26" x2="677.8" y2="227.26" stroke="#4a4a4a" stroke-width="1.0"/>
<line x1="396.5" y1="221.62" x2="398.3" y2="221.62" stroke="#4a4a4a" stroke-width="0.8"/>
<line x1="681.0" y1="221.62" x2="679.2" y2="221.62" stroke="#4a4a4a" stroke-width="0.8"/>
<line x1="396.5" y1="218.32" x2="398.3" y2="218.32" stroke="#4a4a4a" stroke-width="0.8"/>
<line x1="681.0" y1="218.32" x2="679.2" y2="218.32" stroke="#4a4a4a" stroke-width="0.8"/>
<line x1="396.5" y1="215.98" x2="398.3" y2="215.98" stroke="#4a4a4a" stroke-width="0.8"/>
<line x1="681.0" y1="215.98" x2="679.2" y2="215.98" stroke="#4a4a4a" stroke-width="0.8"/>
<line x1="396.5" y1="214.16" x2="398.3" y2="214.16" stroke="#4a4a4a" stroke-width="0.8"/>
<line x1="681.0" y1="214.16" x2="679.2" y2="214.16" stroke="#4a4a4a" stroke-width="0.8"/>
<line x1="396.5" y1="212.68" x2="398.3" y2="212.68" stroke="#4a4a4a" stroke-width="0.8"/>
<line x1="681.0" y1="212.68" x2="679.2" y2="212.68" stroke="#4a4a4a" stroke-width="0.8"/>
<line x1="396.5" y1="211.42" x2="398.3" y2="211.42" stroke="#4a4a4a" stroke-width="0.8"/>
<line x1="681.0" y1="211.42" x2="679.2" y2="211.42" stroke="#4a4a4a" stroke-width="0.8"/>
<line x1="396.5" y1="210.34" x2="398.3" y2="210.34" stroke="#4a4a4a" stroke-width="0.8"/>
<line x1="681.0" y1="210.34" x2="679.2" y2="210.34" stroke="#4a4a4a" stroke-width="0.8"/>
<line x1="396.5" y1="209.38" x2="398.3" y2="209.38" stroke="#4a4a4a" stroke-width="0.8"/>
<line x1="681.0" y1="209.38" x2="679.2" y2="209.38" stroke="#4a4a4a" stroke-width="0.8"/>
<line x1="396.5" y1="208.52" x2="399.7" y2="208.52" stroke="#4a4a4a" stroke-width="1.0"/>
<line x1="681.0" y1="208.52" x2="677.8" y2="208.52" stroke="#4a4a4a" stroke-width="1.0"/>
<line x1="396.5" y1="202.88" x2="398.3" y2="202.88" stroke="#4a4a4a" stroke-width="0.8"/>
<line x1="681.0" y1="202.88" x2="679.2" y2="202.88" stroke="#4a4a4a" stroke-width="0.8"/>
<line x1="396.5" y1="199.58" x2="398.3" y2="199.58" stroke="#4a4a4a" stroke-width="0.8"/>
<line x1="681.0" y1="199.58" x2="679.2" y2="199.58" stroke="#4a4a4a" stroke-width="0.8"/>
<line x1="396.5" y1="197.24" x2="398.3" y2="197.24" stroke="#4a4a4a" stroke-width="0.8"/>
<line x1="681.0" y1="197.24" x2="679.2" y2="197.24" stroke="#4a4a4a" stroke-width="0.8"/>
<line x1="396.5" y1="195.42" x2="398.3" y2="195.42" stroke="#4a4a4a" stroke-width="0.8"/>
<line x1="681.0" y1="195.42" x2="679.2" y2="195.42" stroke="#4a4a4a" stroke-width="0.8"/>
<line x1="396.5" y1="193.94" x2="398.3" y2="193.94" stroke="#4a4a4a" stroke-width="0.8"/>
<line x1="681.0" y1="193.94" x2="679.2" y2="193.94" stroke="#4a4a4a" stroke-width="0.8"/>
<line x1="396.5" y1="192.68" x2="398.3" y2="192.68" stroke="#4a4a4a" stroke-width="0.8"/>
<line x1="681.0" y1="192.68" x2="679.2" y2="192.68" stroke="#4a4a4a" stroke-width="0.8"/>
<line x1="396.5" y1="191.60" x2="398.3" y2="191.60" stroke="#4a4a4a" stroke-width="0.8"/>
<line x1="681.0" y1="191.60" x2="679.2" y2="191.60" stroke="#4a4a4a" stroke-width="0.8"/>
<line x1="396.5" y1="190.64" x2="398.3" y2="190.64" stroke="#4a4a4a" stroke-width="0.8"/>
<line x1="681.0" y1="190.64" x2="679.2" y2="190.64" stroke="#4a4a4a" stroke-width="0.8"/>
<line x1="396.5" y1="189.78" x2="399.7" y2="189.78" stroke="#4a4a4a" stroke-width="1.0"/>
<line x1="681.0" y1="189.78" x2="677.8" y2="189.78" stroke="#4a4a4a" stroke-width="1.0"/>
<line x1="396.5" y1="184.14" x2="398.3" y2="184.14" stroke="#4a4a4a" stroke-width="0.8"/>
<line x1="681.0" y1="184.14" x2="679.2" y2="184.14" stroke="#4a4a4a" stroke-width="0.8"/>
<line x1="396.5" y1="180.84" x2="398.3" y2="180.84" stroke="#4a4a4a" stroke-width="0.8"/>
<line x1="681.0" y1="180.84" x2="679.2" y2="180.84" stroke="#4a4a4a" stroke-width="0.8"/>
<line x1="396.5" y1="178.50" x2="398.3" y2="178.50" stroke="#4a4a4a" stroke-width="0.8"/>
<line x1="681.0" y1="178.50" x2="679.2" y2="178.50" stroke="#4a4a4a" stroke-width="0.8"/>
<line x1="396.5" y1="176.68" x2="398.3" y2="176.68" stroke="#4a4a4a" stroke-width="0.8"/>
<line x1="681.0" y1="176.68" x2="679.2" y2="176.68" stroke="#4a4a4a" stroke-width="0.8"/>
<line x1="396.5" y1="175.20" x2="398.3" y2="175.20" stroke="#4a4a4a" stroke-width="0.8"/>
<line x1="681.0" y1="175.20" x2="679.2" y2="175.20" stroke="#4a4a4a" stroke-width="0.8"/>
<line x1="396.5" y1="173.94" x2="398.3" y2="173.94" stroke="#4a4a4a" stroke-width="0.8"/>
<line x1="681.0" y1="173.94" x2="679.2" y2="173.94" stroke="#4a4a4a" stroke-width="0.8"/>
<line x1="396.5" y1="172.86" x2="398.3" y2="172.86" stroke="#4a4a4a" stroke-width="0.8"/>
<line x1="681.0" y1="172.86" x2="679.2" y2="172.86" stroke="#4a4a4a" stroke-width="0.8"/>
<line x1="396.5" y1="171.90" x2="398.3" y2="171.90" stroke="#4a4a4a" stroke-width="0.8"/>
<line x1="681.0" y1="171.90" x2="679.2" y2="171.90" stroke="#4a4a4a" stroke-width="0.8"/>
<line x1="396.5" y1="171.04" x2="399.7" y2="171.04" stroke="#4a4a4a" stroke-width="1.0"/>
<line x1="681.0" y1="171.04" x2="677.8" y2="171.04" stroke="#4a4a4a" stroke-width="1.0"/>
<line x1="396.5" y1="165.40" x2="398.3" y2="165.40" stroke="#4a4a4a" stroke-width="0.8"/>
<line x1="681.0" y1="165.40" x2="679.2" y2="165.40" stroke="#4a4a4a" stroke-width="0.8"/>
<line x1="396.5" y1="162.10" x2="398.3" y2="162.10" stroke="#4a4a4a" stroke-width="0.8"/>
<line x1="681.0" y1="162.10" x2="679.2" y2="162.10" stroke="#4a4a4a" stroke-width="0.8"/>
<line x1="396.5" y1="159.76" x2="398.3" y2="159.76" stroke="#4a4a4a" stroke-width="0.8"/>
<line x1="681.0" y1="159.76" x2="679.2" y2="159.76" stroke="#4a4a4a" stroke-width="0.8"/>
<line x1="396.5" y1="157.94" x2="398.3" y2="157.94" stroke="#4a4a4a" stroke-width="0.8"/>
<line x1="681.0" y1="157.94" x2="679.2" y2="157.94" stroke="#4a4a4a" stroke-width="0.8"/>
<line x1="396.5" y1="156.46" x2="398.3" y2="156.46" stroke="#4a4a4a" stroke-width="0.8"/>
<line x1="681.0" y1="156.46" x2="679.2" y2="156.46" stroke="#4a4a4a" stroke-width="0.8"/>
<line x1="396.5" y1="155.20" x2="398.3" y2="155.20" stroke="#4a4a4a" stroke-width="0.8"/>
<line x1="681.0" y1="155.20" x2="679.2" y2="155.20" stroke="#4a4a4a" stroke-width="0.8"/>
<line x1="396.5" y1="154.12" x2="398.3" y2="154.12" stroke="#4a4a4a" stroke-width="0.8"/>
<line x1="681.0" y1="154.12" x2="679.2" y2="154.12" stroke="#4a4a4a" stroke-width="0.8"/>
<line x1="396.5" y1="153.16" x2="398.3" y2="153.16" stroke="#4a4a4a" stroke-width="0.8"/>
<line x1="681.0" y1="153.16" x2="679.2" y2="153.16" stroke="#4a4a4a" stroke-width="0.8"/>
<line x1="396.5" y1="152.30" x2="399.7" y2="152.30" stroke="#4a4a4a" stroke-width="1.0"/>
<line x1="681.0" y1="152.30" x2="677.8" y2="152.30" stroke="#4a4a4a" stroke-width="1.0"/>
<line x1="681.0" y1="146.66" x2="679.2" y2="146.66" stroke="#4a4a4a" stroke-width="0.8"/>
<line x1="681.0" y1="143.36" x2="679.2" y2="143.36" stroke="#4a4a4a" stroke-width="0.8"/>
<line x1="681.0" y1="141.02" x2="679.2" y2="141.02" stroke="#4a4a4a" stroke-width="0.8"/>
<line x1="681.0" y1="139.20" x2="679.2" y2="139.20" stroke="#4a4a4a" stroke-width="0.8"/>
<line x1="681.0" y1="137.72" x2="679.2" y2="137.72" stroke="#4a4a4a" stroke-width="0.8"/>
<line x1="681.0" y1="136.46" x2="679.2" y2="136.46" stroke="#4a4a4a" stroke-width="0.8"/>
<line x1="681.0" y1="135.38" x2="679.2" y2="135.38" stroke="#4a4a4a" stroke-width="0.8"/>
<line x1="681.0" y1="134.42" x2="679.2" y2="134.42" stroke="#4a4a4a" stroke-width="0.8"/>
<line x1="681.0" y1="133.56" x2="677.8" y2="133.56" stroke="#4a4a4a" stroke-width="1.0"/>
<line x1="681.0" y1="127.92" x2="679.2" y2="127.92" stroke="#4a4a4a" stroke-width="0.8"/>
<line x1="681.0" y1="124.62" x2="679.2" y2="124.62" stroke="#4a4a4a" stroke-width="0.8"/>
<line x1="681.0" y1="122.28" x2="679.2" y2="122.28" stroke="#4a4a4a" stroke-width="0.8"/>
<line x1="681.0" y1="120.46" x2="679.2" y2="120.46" stroke="#4a4a4a" stroke-width="0.8"/>
<line x1="681.0" y1="118.98" x2="679.2" y2="118.98" stroke="#4a4a4a" stroke-width="0.8"/>
<line x1="681.0" y1="117.72" x2="679.2" y2="117.72" stroke="#4a4a4a" stroke-width="0.8"/>
<line x1="681.0" y1="116.64" x2="679.2" y2="116.64" stroke="#4a4a4a" stroke-width="0.8"/>
<line x1="681.0" y1="115.68" x2="679.2" y2="115.68" stroke="#4a4a4a" stroke-width="0.8"/>
<line x1="681.0" y1="114.82" x2="677.8" y2="114.82" stroke="#4a4a4a" stroke-width="1.0"/>
<line x1="681.0" y1="109.18" x2="679.2" y2="109.18" stroke="#4a4a4a" stroke-width="0.8"/>
<line x1="681.0" y1="105.88" x2="679.2" y2="105.88" stroke="#4a4a4a" stroke-width="0.8"/>
<line x1="681.0" y1="103.54" x2="679.2" y2="103.54" stroke="#4a4a4a" stroke-width="0.8"/>
<line x1="681.0" y1="101.72" x2="679.2" y2="101.72" stroke="#4a4a4a" stroke-width="0.8"/>
<line x1="681.0" y1="100.24" x2="679.2" y2="100.24" stroke="#4a4a4a" stroke-width="0.8"/>
<line x1="681.0" y1="98.98" x2="679.2" y2="98.98" stroke="#4a4a4a" stroke-width="0.8"/>
<line x1="681.0" y1="97.90" x2="679.2" y2="97.90" stroke="#4a4a4a" stroke-width="0.8"/>
<line x1="681.0" y1="96.94" x2="679.2" y2="96.94" stroke="#4a4a4a" stroke-width="0.8"/>
<line x1="681.0" y1="96.08" x2="677.8" y2="96.08" stroke="#4a4a4a" stroke-width="1.0"/>
<line x1="681.0" y1="90.44" x2="679.2" y2="90.44" stroke="#4a4a4a" stroke-width="0.8"/>
<line x1="681.0" y1="87.14" x2="679.2" y2="87.14" stroke="#4a4a4a" stroke-width="0.8"/>
<line x1="681.0" y1="84.80" x2="679.2" y2="84.80" stroke="#4a4a4a" stroke-width="0.8"/>
<line x1="681.0" y1="82.98" x2="679.2" y2="82.98" stroke="#4a4a4a" stroke-width="0.8"/>
<line x1="681.0" y1="81.50" x2="679.2" y2="81.50" stroke="#4a4a4a" stroke-width="0.8"/>
<line x1="681.0" y1="80.24" x2="679.2" y2="80.24" stroke="#4a4a4a" stroke-width="0.8"/>
<line x1="681.0" y1="79.16" x2="679.2" y2="79.16" stroke="#4a4a4a" stroke-width="0.8"/>
<line x1="681.0" y1="78.20" x2="679.2" y2="78.20" stroke="#4a4a4a" stroke-width="0.8"/>
<line x1="681.0" y1="77.34" x2="677.8" y2="77.34" stroke="#4a4a4a" stroke-width="1.0"/>
<line x1="681.0" y1="71.70" x2="679.2" y2="71.70" stroke="#4a4a4a" stroke-width="0.8"/>
<line x1="681.0" y1="68.40" x2="679.2" y2="68.40" stroke="#4a4a4a" stroke-width="0.8"/>
<line x1="681.0" y1="66.06" x2="679.2" y2="66.06" stroke="#4a4a4a" stroke-width="0.8"/>
<line x1="681.0" y1="64.24" x2="679.2" y2="64.24" stroke="#4a4a4a" stroke-width="0.8"/>
<line x1="681.0" y1="62.76" x2="679.2" y2="62.76" stroke="#4a4a4a" stroke-width="0.8"/>
<line x1="681.0" y1="61.50" x2="679.2" y2="61.50" stroke="#4a4a4a" stroke-width="0.8"/>
<line x1="681.0" y1="60.42" x2="679.2" y2="60.42" stroke="#4a4a4a" stroke-width="0.8"/>
<line x1="681.0" y1="59.46" x2="679.2" y2="59.46" stroke="#4a4a4a" stroke-width="0.8"/>
<line x1="681.0" y1="58.60" x2="677.8" y2="58.60" stroke="#4a4a4a" stroke-width="1.0"/>
<line x1="681.0" y1="52.96" x2="679.2" y2="52.96" stroke="#4a4a4a" stroke-width="0.8"/>
<line x1="681.0" y1="49.66" x2="679.2" y2="49.66" stroke="#4a4a4a" stroke-width="0.8"/>
<line x1="681.0" y1="47.32" x2="679.2" y2="47.32" stroke="#4a4a4a" stroke-width="0.8"/>
<line x1="681.0" y1="45.50" x2="679.2" y2="45.50" stroke="#4a4a4a" stroke-width="0.8"/>
<line x1="681.0" y1="44.02" x2="679.2" y2="44.02" stroke="#4a4a4a" stroke-width="0.8"/>
<line x1="681.0" y1="42.76" x2="679.2" y2="42.76" stroke="#4a4a4a" stroke-width="0.8"/>
<line x1="681.0" y1="41.68" x2="679.2" y2="41.68" stroke="#4a4a4a" stroke-width="0.8"/>
<line x1="681.0" y1="40.72" x2="679.2" y2="40.72" stroke="#4a4a4a" stroke-width="0.8"/>
<line x1="681.0" y1="39.86" x2="677.8" y2="39.86" stroke="#4a4a4a" stroke-width="1.0"/>
<line x1="681.0" y1="34.22" x2="679.2" y2="34.22" stroke="#4a4a4a" stroke-width="0.8"/>
<line x1="681.0" y1="30.92" x2="679.2" y2="30.92" stroke="#4a4a4a" stroke-width="0.8"/>
<line x1="681.0" y1="28.58" x2="679.2" y2="28.58" stroke="#4a4a4a" stroke-width="0.8"/>
<line x1="681.0" y1="26.76" x2="679.2" y2="26.76" stroke="#4a4a4a" stroke-width="0.8"/>
<line x1="681.0" y1="25.28" x2="679.2" y2="25.28" stroke="#4a4a4a" stroke-width="0.8"/>
<line x1="681.0" y1="24.02" x2="679.2" y2="24.02" stroke="#4a4a4a" stroke-width="0.8"/>
<line x1="681.0" y1="22.94" x2="679.2" y2="22.94" stroke="#4a4a4a" stroke-width="0.8"/>
<line x1="681.0" y1="21.98" x2="679.2" y2="21.98" stroke="#4a4a4a" stroke-width="0.8"/>
<line x1="681.0" y1="21.12" x2="677.8" y2="21.12" stroke="#4a4a4a" stroke-width="1.0"/>
<line x1="681.0" y1="15.48" x2="679.2" y2="15.48" stroke="#4a4a4a" stroke-width="0.8"/>
<line x1="681.0" y1="12.18" x2="679.2" y2="12.18" stroke="#4a4a4a" stroke-width="0.8"/>
<line x1="681.0" y1="9.84" x2="679.2" y2="9.84" stroke="#4a4a4a" stroke-width="0.8"/>
<path d="M396.50,152.30 L398.00,61.00 L399.00,129.90 L399.90,67.00" fill="none" stroke="#ff0000" stroke-width="2.0" stroke-linejoin="round" clip-path="url(#c8)"/>
<path d="M399.90,67.00 L401.72,73.51 L403.54,79.72 L405.37,85.67 L407.19,91.41 L409.01,96.97 L410.83,102.37 L412.66,107.66 L414.48,112.84 L416.30,117.94 L418.12,122.96 L419.95,127.93 L421.77,132.84 L423.59,137.71 L425.41,142.55 L427.24,147.36 L429.06,152.15 L430.88,156.91 L432.70,161.66 L434.53,166.40 L436.35,171.12 L438.17,175.84 L440.00,180.54 L441.82,185.24 L443.64,189.93 L445.46,194.62 L447.29,199.31 L449.11,203.99 L450.93,208.67 L452.75,213.35 L454.57,218.02 L456.40,222.69 L458.22,227.37 L460.04,232.04 L461.87,236.71 L463.69,241.38 L465.51,246.05 L467.33,250.71 L469.15,255.38 L470.98,260.05 L472.80,264.72" fill="none" stroke="#ff0000" stroke-width="1.6" stroke-linejoin="round" clip-path="url(#c8)"/>
<path d="M396.50,152.30 L397.10,8.50" fill="none" stroke="#0000ff" stroke-width="2.0" stroke-linejoin="round" clip-path="url(#c8)"/>
<path d="M397.10,8.50 L399.10,23.60 L524.40,264.20" fill="none" stroke="#0000ff" stroke-width="2.0" stroke-dasharray="3.3 1.0 0.35 0.9" stroke-linejoin="round" clip-path="url(#c8)"/>
<path d="M396.50,152.30 L396.90,30.20 L399.00,49.80" fill="none" stroke="#987821" stroke-width="1.9" stroke-linejoin="round" clip-path="url(#c8)"/>
<path d="M399.00,49.80 L636.90,264.80" fill="none" stroke="#987821" stroke-width="1.9" stroke-dasharray="3.5 0.85 0.45 0.8" stroke-linejoin="round" clip-path="url(#c8)"/>
<text transform="translate(393.80,265.04) scale(0.6200,1.0)" font-family='"Liberation Sans", sans-serif' font-size="8.2" text-anchor="end" fill="#1a1a1a" stroke="#1a1a1a" stroke-width="0.295">-6</text>
<text transform="translate(388.38,269.84) scale(0.5800,1.0)" font-family='"Liberation Sans", sans-serif' font-size="10.4" text-anchor="end" fill="#1a1a1a" stroke="#1a1a1a" stroke-width="0.374">10</text>
<text transform="translate(393.80,227.56) scale(0.6200,1.0)" font-family='"Liberation Sans", sans-serif' font-size="8.2" text-anchor="end" fill="#1a1a1a" stroke="#1a1a1a" stroke-width="0.295">-4</text>
<text transform="translate(388.38,232.36) scale(0.5800,1.0)" font-family='"Liberation Sans", sans-serif' font-size="10.4" text-anchor="end" fill="#1a1a1a" stroke="#1a1a1a" stroke-width="0.374">10</text>
<text transform="translate(393.80,190.08) scale(0.6200,1.0)" font-family='"Liberation Sans", sans-serif' font-size="8.2" text-anchor="end" fill="#1a1a1a" stroke="#1a1a1a" stroke-width="0.295">-2</text>
<text transform="translate(388.38,194.88) scale(0.5800,1.0)" font-family='"Liberation Sans", sans-serif' font-size="10.4" text-anchor="end" fill="#1a1a1a" stroke="#1a1a1a" stroke-width="0.374">10</text>
<text transform="translate(393.80,152.60) scale(0.6200,1.0)" font-family='"Liberation Sans", sans-serif' font-size="8.2" text-anchor="end" fill="#1a1a1a" stroke="#1a1a1a" stroke-width="0.295">0</text>
<text transform="translate(390.07,157.40) scale(0.5800,1.0)" font-family='"Liberation Sans", sans-serif' font-size="10.4" text-anchor="end" fill="#1a1a1a" stroke="#1a1a1a" stroke-width="0.374">10</text>
<text transform="translate(393.80,115.12) scale(0.6200,1.0)" font-family='"Liberation Sans", sans-serif' font-size="8.2" text-anchor="end" fill="#1a1a1a" stroke="#1a1a1a" stroke-width="0.295">2</text>
<text transform="translate(390.07,119.92) scale(0.5800,1.0)" font-family='"Liberation Sans", sans-serif' font-size="10.4" text-anchor="end" fill="#1a1a1a" stroke="#1a1a1a" stroke-width="0.374">10</text>
<text transform="translate(393.80,77.64) scale(0.6200,1.0)" font-family='"Liberation Sans", sans-serif' font-size="8.2" text-anchor="end" fill="#1a1a1a" stroke="#1a1a1a" stroke-width="0.295">4</text>
<text transform="translate(390.07,82.44) scale(0.5800,1.0)" font-family='"Liberation Sans", sans-serif' font-size="10.4" text-anchor="end" fill="#1a1a1a" stroke="#1a1a1a" stroke-width="0.374">10</text>
<text transform="translate(393.80,40.16) scale(0.6200,1.0)" font-family='"Liberation Sans", sans-serif' font-size="8.2" text-anchor="end" fill="#1a1a1a" stroke="#1a1a1a" stroke-width="0.295">6</text>
<text transform="translate(390.07,44.96) scale(0.5800,1.0)" font-family='"Liberation Sans", sans-serif' font-size="10.4" text-anchor="end" fill="#1a1a1a" stroke="#1a1a1a" stroke-width="0.374">10</text>
<text transform="translate(534.20,291.60) scale(0.6450,1.0)" font-family='"Liberation Sans", sans-serif' font-size="10.4" text-anchor="middle" fill="#1a1a1a" stroke="#1a1a1a" stroke-width="0.374">Number of iterations</text>
<text transform="translate(378.1,140.8) rotate(-90) scale(1,0.8)" font-family='"Liberation Serif", serif' font-style="italic" font-size="11.5" fill="#4a4a4a" stroke="#4a4a4a" stroke-width="0.2">e<tspan font-size="8.0" dy="1.4">t</tspan></text>
<rect x="638.6" y="16.2" width="37.10000000000002" height="35.400000000000006" fill="#fff" stroke="#4a4a4a" stroke-width="0.7"/>
<line x1="640.0" y1="22.80" x2="652.2" y2="22.80" stroke="#ff0000" stroke-width="1.6"/>
<text transform="translate(652.40,25.80) scale(0.5919,1.0)" font-family='"Liberation Sans", sans-serif' font-size="9.4" text-anchor="start" fill="#000" stroke="#000" stroke-width="0.338">YAS Alg</text>
<line x1="640.0" y1="34.20" x2="652.2" y2="34.20" stroke="#0000ff" stroke-width="1.5" stroke-dasharray="3.3 0.9 0.9 0.9"/>
<text transform="translate(652.40,37.20) scale(0.5713,1.0)" font-family='"Liberation Sans", sans-serif' font-size="9.4" text-anchor="start" fill="#000" stroke="#000" stroke-width="0.338">BCV Alg</text>
<line x1="640.0" y1="45.50" x2="652.2" y2="45.50" stroke="#987821" stroke-width="1.2" stroke-dasharray="3.3 0.9 0.9 0.9"/>
<text transform="translate(652.40,48.50) scale(0.5799,1.0)" font-family='"Liberation Sans", sans-serif' font-size="9.4" text-anchor="start" fill="#000" stroke="#000" stroke-width="0.338">BSV Alg</text>
<line x1="396.5" y1="575.35" x2="680.8" y2="575.35" stroke="#d0d0d0" stroke-width="0.5" stroke-dasharray="1.9 1.2"/>
<line x1="396.5" y1="572.10" x2="680.8" y2="572.10" stroke="#d0d0d0" stroke-width="0.5" stroke-dasharray="1.9 1.2"/>
<line x1="396.5" y1="569.79" x2="680.8" y2="569.79" stroke="#d0d0d0" stroke-width="0.5" stroke-dasharray="1.9 1.2"/>
<line x1="396.5" y1="568.00" x2="680.8" y2="568.00" stroke="#d0d0d0" stroke-width="0.5" stroke-dasharray="1.9 1.2"/>
<line x1="396.5" y1="566.54" x2="680.8" y2="566.54" stroke="#d0d0d0" stroke-width="0.5" stroke-dasharray="1.9 1.2"/>
<line x1="396.5" y1="565.31" x2="680.8" y2="565.31" stroke="#d0d0d0" stroke-width="0.5" stroke-dasharray="1.9 1.2"/>
<line x1="396.5" y1="564.24" x2="680.8" y2="564.24" stroke="#d0d0d0" stroke-width="0.5" stroke-dasharray="1.9 1.2"/>
<line x1="396.5" y1="563.29" x2="680.8" y2="563.29" stroke="#d0d0d0" stroke-width="0.5" stroke-dasharray="1.9 1.2"/>
<line x1="396.5" y1="556.90" x2="680.8" y2="556.90" stroke="#d0d0d0" stroke-width="0.5" stroke-dasharray="1.9 1.2"/>
<line x1="396.5" y1="553.65" x2="680.8" y2="553.65" stroke="#d0d0d0" stroke-width="0.5" stroke-dasharray="1.9 1.2"/>
<line x1="396.5" y1="551.34" x2="680.8" y2="551.34" stroke="#d0d0d0" stroke-width="0.5" stroke-dasharray="1.9 1.2"/>
<line x1="396.5" y1="549.55" x2="680.8" y2="549.55" stroke="#d0d0d0" stroke-width="0.5" stroke-dasharray="1.9 1.2"/>
<line x1="396.5" y1="548.09" x2="680.8" y2="548.09" stroke="#d0d0d0" stroke-width="0.5" stroke-dasharray="1.9 1.2"/>
<line x1="396.5" y1="546.86" x2="680.8" y2="546.86" stroke="#d0d0d0" stroke-width="0.5" stroke-dasharray="1.9 1.2"/>
<line x1="396.5" y1="545.79" x2="680.8" y2="545.79" stroke="#d0d0d0" stroke-width="0.5" stroke-dasharray="1.9 1.2"/>
<line x1="396.5" y1="544.84" x2="680.8" y2="544.84" stroke="#d0d0d0" stroke-width="0.5" stroke-dasharray="1.9 1.2"/>
<line x1="396.5" y1="538.45" x2="680.8" y2="538.45" stroke="#d0d0d0" stroke-width="0.5" stroke-dasharray="1.9 1.2"/>
<line x1="396.5" y1="535.20" x2="680.8" y2="535.20" stroke="#d0d0d0" stroke-width="0.5" stroke-dasharray="1.9 1.2"/>
<line x1="396.5" y1="532.89" x2="680.8" y2="532.89" stroke="#d0d0d0" stroke-width="0.5" stroke-dasharray="1.9 1.2"/>
<line x1="396.5" y1="531.10" x2="680.8" y2="531.10" stroke="#d0d0d0" stroke-width="0.5" stroke-dasharray="1.9 1.2"/>
<line x1="396.5" y1="529.64" x2="680.8" y2="529.64" stroke="#d0d0d0" stroke-width="0.5" stroke-dasharray="1.9 1.2"/>
<line x1="396.5" y1="528.41" x2="680.8" y2="528.41" stroke="#d0d0d0" stroke-width="0.5" stroke-dasharray="1.9 1.2"/>
<line x1="396.5" y1="527.34" x2="680.8" y2="527.34" stroke="#d0d0d0" stroke-width="0.5" stroke-dasharray="1.9 1.2"/>
<line x1="396.5" y1="526.39" x2="680.8" y2="526.39" stroke="#d0d0d0" stroke-width="0.5" stroke-dasharray="1.9 1.2"/>
<line x1="396.5" y1="520.00" x2="680.8" y2="520.00" stroke="#d0d0d0" stroke-width="0.5" stroke-dasharray="1.9 1.2"/>
<line x1="396.5" y1="516.75" x2="680.8" y2="516.75" stroke="#d0d0d0" stroke-width="0.5" stroke-dasharray="1.9 1.2"/>
<line x1="396.5" y1="514.44" x2="680.8" y2="514.44" stroke="#d0d0d0" stroke-width="0.5" stroke-dasharray="1.9 1.2"/>
<line x1="396.5" y1="512.65" x2="680.8" y2="512.65" stroke="#d0d0d0" stroke-width="0.5" stroke-dasharray="1.9 1.2"/>
<line x1="396.5" y1="511.19" x2="680.8" y2="511.19" stroke="#d0d0d0" stroke-width="0.5" stroke-dasharray="1.9 1.2"/>
<line x1="396.5" y1="509.96" x2="680.8" y2="509.96" stroke="#d0d0d0" stroke-width="0.5" stroke-dasharray="1.9 1.2"/>
<line x1="396.5" y1="508.89" x2="680.8" y2="508.89" stroke="#d0d0d0" stroke-width="0.5" stroke-dasharray="1.9 1.2"/>
<line x1="396.5" y1="507.94" x2="680.8" y2="507.94" stroke="#d0d0d0" stroke-width="0.5" stroke-dasharray="1.9 1.2"/>
<line x1="396.5" y1="501.55" x2="680.8" y2="501.55" stroke="#d0d0d0" stroke-width="0.5" stroke-dasharray="1.9 1.2"/>
<line x1="396.5" y1="498.30" x2="680.8" y2="498.30" stroke="#d0d0d0" stroke-width="0.5" stroke-dasharray="1.9 1.2"/>
<line x1="396.5" y1="495.99" x2="680.8" y2="495.99" stroke="#d0d0d0" stroke-width="0.5" stroke-dasharray="1.9 1.2"/>
<line x1="396.5" y1="494.20" x2="680.8" y2="494.20" stroke="#d0d0d0" stroke-width="0.5" stroke-dasharray="1.9 1.2"/>
<line x1="396.5" y1="492.74" x2="680.8" y2="492.74" stroke="#d0d0d0" stroke-width="0.5" stroke-dasharray="1.9 1.2"/>
<line x1="396.5" y1="491.51" x2="680.8" y2="491.51" stroke="#d0d0d0" stroke-width="0.5" stroke-dasharray="1.9 1.2"/>
<line x1="396.5" y1="490.44" x2="680.8" y2="490.44" stroke="#d0d0d0" stroke-width="0.5" stroke-dasharray="1.9 1.2"/>
<line x1="396.5" y1="489.49" x2="680.8" y2="489.49" stroke="#d0d0d0" stroke-width="0.5" stroke-dasharray="1.9 1.2"/>
<line x1="396.5" y1="483.10" x2="680.8" y2="483.10" stroke="#d0d0d0" stroke-width="0.5" stroke-dasharray="1.9 1.2"/>
<line x1="396.5" y1="479.85" x2="680.8" y2="479.85" stroke="#d0d0d0" stroke-width="0.5" stroke-dasharray="1.9 1.2"/>
<line x1="396.5" y1="477.54" x2="680.8" y2="477.54" stroke="#d0d0d0" stroke-width="0.5" stroke-dasharray="1.9 1.2"/>
<line x1="396.5" y1="475.75" x2="680.8" y2="475.75" stroke="#d0d0d0" stroke-width="0.5" stroke-dasharray="1.9 1.2"/>
<line x1="396.5" y1="474.29" x2="680.8" y2="474.29" stroke="#d0d0d0" stroke-width="0.5" stroke-dasharray="1.9 1.2"/>
<line x1="396.5" y1="473.06" x2="680.8" y2="473.06" stroke="#d0d0d0" stroke-width="0.5" stroke-dasharray="1.9 1.2"/>
<line x1="396.5" y1="471.99" x2="680.8" y2="471.99" stroke="#d0d0d0" stroke-width="0.5" stroke-dasharray="1.9 1.2"/>
<line x1="396.5" y1="471.04" x2="680.8" y2="471.04" stroke="#d0d0d0" stroke-width="0.5" stroke-dasharray="1.9 1.2"/>
<line x1="396.5" y1="464.65" x2="680.8" y2="464.65" stroke="#d0d0d0" stroke-width="0.5" stroke-dasharray="1.9 1.2"/>
<line x1="396.5" y1="461.40" x2="680.8" y2="461.40" stroke="#d0d0d0" stroke-width="0.5" stroke-dasharray="1.9 1.2"/>
<line x1="396.5" y1="459.09" x2="680.8" y2="459.09" stroke="#d0d0d0" stroke-width="0.5" stroke-dasharray="1.9 1.2"/>
<line x1="396.5" y1="457.30" x2="680.8" y2="457.30" stroke="#d0d0d0" stroke-width="0.5" stroke-dasharray="1.9 1.2"/>
<line x1="396.5" y1="455.84" x2="680.8" y2="455.84" stroke="#d0d0d0" stroke-width="0.5" stroke-dasharray="1.9 1.2"/>
<line x1="396.5" y1="454.61" x2="680.8" y2="454.61" stroke="#d0d0d0" stroke-width="0.5" stroke-dasharray="1.9 1.2"/>
<line x1="396.5" y1="453.54" x2="680.8" y2="453.54" stroke="#d0d0d0" stroke-width="0.5" stroke-dasharray="1.9 1.2"/>
<line x1="396.5" y1="452.59" x2="680.8" y2="452.59" stroke="#d0d0d0" stroke-width="0.5" stroke-dasharray="1.9 1.2"/>
<line x1="396.5" y1="446.20" x2="680.8" y2="446.20" stroke="#d0d0d0" stroke-width="0.5" stroke-dasharray="1.9 1.2"/>
<line x1="396.5" y1="442.95" x2="680.8" y2="442.95" stroke="#d0d0d0" stroke-width="0.5" stroke-dasharray="1.9 1.2"/>
<line x1="396.5" y1="440.64" x2="680.8" y2="440.64" stroke="#d0d0d0" stroke-width="0.5" stroke-dasharray="1.9 1.2"/>
<line x1="396.5" y1="438.85" x2="680.8" y2="438.85" stroke="#d0d0d0" stroke-width="0.5" stroke-dasharray="1.9 1.2"/>
<line x1="396.5" y1="437.39" x2="680.8" y2="437.39" stroke="#d0d0d0" stroke-width="0.5" stroke-dasharray="1.9 1.2"/>
<line x1="396.5" y1="436.16" x2="680.8" y2="436.16" stroke="#d0d0d0" stroke-width="0.5" stroke-dasharray="1.9 1.2"/>
<line x1="396.5" y1="435.09" x2="680.8" y2="435.09" stroke="#d0d0d0" stroke-width="0.5" stroke-dasharray="1.9 1.2"/>
<line x1="396.5" y1="434.14" x2="680.8" y2="434.14" stroke="#d0d0d0" stroke-width="0.5" stroke-dasharray="1.9 1.2"/>
<line x1="396.5" y1="427.75" x2="680.8" y2="427.75" stroke="#d0d0d0" stroke-width="0.5" stroke-dasharray="1.9 1.2"/>
<line x1="396.5" y1="424.50" x2="680.8" y2="424.50" stroke="#d0d0d0" stroke-width="0.5" stroke-dasharray="1.9 1.2"/>
<line x1="396.5" y1="422.19" x2="680.8" y2="422.19" stroke="#d0d0d0" stroke-width="0.5" stroke-dasharray="1.9 1.2"/>
<line x1="396.5" y1="420.40" x2="680.8" y2="420.40" stroke="#d0d0d0" stroke-width="0.5" stroke-dasharray="1.9 1.2"/>
<line x1="396.5" y1="418.94" x2="680.8" y2="418.94" stroke="#d0d0d0" stroke-width="0.5" stroke-dasharray="1.9 1.2"/>
<line x1="396.5" y1="417.71" x2="680.8" y2="417.71" stroke="#d0d0d0" stroke-width="0.5" stroke-dasharray="1.9 1.2"/>
<line x1="396.5" y1="416.64" x2="680.8" y2="416.64" stroke="#d0d0d0" stroke-width="0.5" stroke-dasharray="1.9 1.2"/>
<line x1="396.5" y1="415.69" x2="680.8" y2="415.69" stroke="#d0d0d0" stroke-width="0.5" stroke-dasharray="1.9 1.2"/>
<line x1="396.5" y1="409.30" x2="680.8" y2="409.30" stroke="#d0d0d0" stroke-width="0.5" stroke-dasharray="1.9 1.2"/>
<line x1="396.5" y1="406.05" x2="680.8" y2="406.05" stroke="#d0d0d0" stroke-width="0.5" stroke-dasharray="1.9 1.2"/>
<line x1="396.5" y1="403.74" x2="680.8" y2="403.74" stroke="#d0d0d0" stroke-width="0.5" stroke-dasharray="1.9 1.2"/>
<line x1="396.5" y1="401.95" x2="680.8" y2="401.95" stroke="#d0d0d0" stroke-width="0.5" stroke-dasharray="1.9 1.2"/>
<line x1="396.5" y1="400.49" x2="680.8" y2="400.49" stroke="#d0d0d0" stroke-width="0.5" stroke-dasharray="1.9 1.2"/>
<line x1="396.5" y1="399.26" x2="680.8" y2="399.26" stroke="#d0d0d0" stroke-width="0.5" stroke-dasharray="1.9 1.2"/>
<line x1="396.5" y1="398.19" x2="680.8" y2="398.19" stroke="#d0d0d0" stroke-width="0.5" stroke-dasharray="1.9 1.2"/>
<line x1="396.5" y1="397.24" x2="680.8" y2="397.24" stroke="#d0d0d0" stroke-width="0.5" stroke-dasharray="1.9 1.2"/>
<line x1="396.5" y1="390.85" x2="680.8" y2="390.85" stroke="#d0d0d0" stroke-width="0.5" stroke-dasharray="1.9 1.2"/>
<line x1="396.5" y1="387.60" x2="680.8" y2="387.60" stroke="#d0d0d0" stroke-width="0.5" stroke-dasharray="1.9 1.2"/>
<line x1="396.5" y1="385.29" x2="680.8" y2="385.29" stroke="#d0d0d0" stroke-width="0.5" stroke-dasharray="1.9 1.2"/>
<line x1="396.5" y1="383.50" x2="680.8" y2="383.50" stroke="#d0d0d0" stroke-width="0.5" stroke-dasharray="1.9 1.2"/>
<line x1="396.5" y1="382.04" x2="680.8" y2="382.04" stroke="#d0d0d0" stroke-width="0.5" stroke-dasharray="1.9 1.2"/>
<line x1="396.5" y1="380.81" x2="680.8" y2="380.81" stroke="#d0d0d0" stroke-width="0.5" stroke-dasharray="1.9 1.2"/>
<line x1="396.5" y1="379.74" x2="680.8" y2="379.74" stroke="#d0d0d0" stroke-width="0.5" stroke-dasharray="1.9 1.2"/>
<line x1="396.5" y1="378.79" x2="680.8" y2="378.79" stroke="#d0d0d0" stroke-width="0.5" stroke-dasharray="1.9 1.2"/>
<line x1="396.5" y1="372.40" x2="680.8" y2="372.40" stroke="#d0d0d0" stroke-width="0.5" stroke-dasharray="1.9 1.2"/>
<line x1="396.5" y1="369.15" x2="680.8" y2="369.15" stroke="#d0d0d0" stroke-width="0.5" stroke-dasharray="1.9 1.2"/>
<line x1="396.5" y1="366.84" x2="680.8" y2="366.84" stroke="#d0d0d0" stroke-width="0.5" stroke-dasharray="1.9 1.2"/>
<line x1="396.5" y1="365.05" x2="680.8" y2="365.05" stroke="#d0d0d0" stroke-width="0.5" stroke-dasharray="1.9 1.2"/>
<line x1="396.5" y1="363.59" x2="680.8" y2="363.59" stroke="#d0d0d0" stroke-width="0.5" stroke-dasharray="1.9 1.2"/>
<line x1="396.5" y1="362.36" x2="680.8" y2="362.36" stroke="#d0d0d0" stroke-width="0.5" stroke-dasharray="1.9 1.2"/>
<line x1="396.5" y1="361.29" x2="680.8" y2="361.29" stroke="#d0d0d0" stroke-width="0.5" stroke-dasharray="1.9 1.2"/>
<line x1="396.5" y1="360.34" x2="680.8" y2="360.34" stroke="#d0d0d0" stroke-width="0.5" stroke-dasharray="1.9 1.2"/>
<line x1="396.5" y1="353.95" x2="680.8" y2="353.95" stroke="#d0d0d0" stroke-width="0.5" stroke-dasharray="1.9 1.2"/>
<line x1="396.5" y1="350.70" x2="680.8" y2="350.70" stroke="#d0d0d0" stroke-width="0.5" stroke-dasharray="1.9 1.2"/>
<line x1="396.5" y1="348.39" x2="680.8" y2="348.39" stroke="#d0d0d0" stroke-width="0.5" stroke-dasharray="1.9 1.2"/>
<line x1="396.5" y1="346.60" x2="680.8" y2="346.60" stroke="#d0d0d0" stroke-width="0.5" stroke-dasharray="1.9 1.2"/>
<line x1="396.5" y1="345.14" x2="680.8" y2="345.14" stroke="#d0d0d0" stroke-width="0.5" stroke-dasharray="1.9 1.2"/>
<line x1="396.5" y1="343.91" x2="680.8" y2="343.91" stroke="#d0d0d0" stroke-width="0.5" stroke-dasharray="1.9 1.2"/>
<line x1="396.5" y1="342.84" x2="680.8" y2="342.84" stroke="#d0d0d0" stroke-width="0.5" stroke-dasharray="1.9 1.2"/>
<line x1="396.5" y1="341.89" x2="680.8" y2="341.89" stroke="#d0d0d0" stroke-width="0.5" stroke-dasharray="1.9 1.2"/>
<line x1="396.5" y1="335.50" x2="680.8" y2="335.50" stroke="#d0d0d0" stroke-width="0.5" stroke-dasharray="1.9 1.2"/>
<line x1="396.5" y1="332.25" x2="680.8" y2="332.25" stroke="#d0d0d0" stroke-width="0.5" stroke-dasharray="1.9 1.2"/>
<line x1="396.5" y1="329.94" x2="680.8" y2="329.94" stroke="#d0d0d0" stroke-width="0.5" stroke-dasharray="1.9 1.2"/>
<line x1="396.5" y1="328.15" x2="680.8" y2="328.15" stroke="#d0d0d0" stroke-width="0.5" stroke-dasharray="1.9 1.2"/>
<line x1="396.5" y1="326.69" x2="680.8" y2="326.69" stroke="#d0d0d0" stroke-width="0.5" stroke-dasharray="1.9 1.2"/>
<line x1="396.5" y1="325.46" x2="680.8" y2="325.46" stroke="#d0d0d0" stroke-width="0.5" stroke-dasharray="1.9 1.2"/>
<line x1="396.5" y1="562.45" x2="680.8" y2="562.45" stroke="#dcdcdc" stroke-width="0.75"/>
<line x1="396.5" y1="544.00" x2="680.8" y2="544.00" stroke="#dcdcdc" stroke-width="0.75"/>
<line x1="396.5" y1="525.55" x2="680.8" y2="525.55" stroke="#dcdcdc" stroke-width="0.75"/>
<line x1="396.5" y1="507.10" x2="680.8" y2="507.10" stroke="#dcdcdc" stroke-width="0.75"/>
<line x1="396.5" y1="488.65" x2="680.8" y2="488.65" stroke="#dcdcdc" stroke-width="0.75"/>
<line x1="396.5" y1="470.20" x2="680.8" y2="470.20" stroke="#dcdcdc" stroke-width="0.75"/>
<line x1="396.5" y1="451.75" x2="680.8" y2="451.75" stroke="#dcdcdc" stroke-width="0.75"/>
<line x1="396.5" y1="433.30" x2="680.8" y2="433.30" stroke="#dcdcdc" stroke-width="0.75"/>
<line x1="396.5" y1="414.85" x2="680.8" y2="414.85" stroke="#dcdcdc" stroke-width="0.75"/>
<line x1="396.5" y1="396.40" x2="680.8" y2="396.40" stroke="#dcdcdc" stroke-width="0.75"/>
<line x1="396.5" y1="377.95" x2="680.8" y2="377.95" stroke="#dcdcdc" stroke-width="0.75"/>
<line x1="396.5" y1="359.50" x2="680.8" y2="359.50" stroke="#dcdcdc" stroke-width="0.75"/>
<line x1="396.5" y1="341.05" x2="680.8" y2="341.05" stroke="#dcdcdc" stroke-width="0.75"/>
<line x1="443.50" y1="324.9" x2="443.50" y2="581.2" stroke="#e3e3e3" stroke-width="1.3"/>
<line x1="491.50" y1="324.9" x2="491.50" y2="581.2" stroke="#e3e3e3" stroke-width="1.3"/>
<line x1="538.50" y1="324.9" x2="538.50" y2="581.2" stroke="#e3e3e3" stroke-width="1.3"/>
<line x1="586.50" y1="324.9" x2="586.50" y2="581.2" stroke="#e3e3e3" stroke-width="1.3"/>
<line x1="633.50" y1="324.9" x2="633.50" y2="581.2" stroke="#e3e3e3" stroke-width="1.3"/>
<clipPath id="c324"><rect x="396.05" y="324.9" width="284.74999999999994" height="257.30000000000007"/></clipPath>
<rect x="396.5" y="324.9" width="284.29999999999995" height="256.30000000000007" fill="none" stroke="#4a4a4a" stroke-width="1.0"/>
<line x1="396.50" y1="581.2" x2="396.50" y2="577.2" stroke="#4a4a4a" stroke-width="1.0"/>
<line x1="396.50" y1="324.9" x2="396.50" y2="328.9" stroke="#4a4a4a" stroke-width="1.0"/>
<text transform="translate(395.50,594.80) scale(0.5750,1.0)" font-family='"Liberation Sans", sans-serif' font-size="10.4" text-anchor="middle" fill="#1a1a1a" stroke="#1a1a1a" stroke-width="0.374">0</text>
<line x1="443.88" y1="581.2" x2="443.88" y2="577.2" stroke="#4a4a4a" stroke-width="1.0"/>
<line x1="443.88" y1="324.9" x2="443.88" y2="328.9" stroke="#4a4a4a" stroke-width="1.0"/>
<text transform="translate(442.88,594.80) scale(0.5750,1.0)" font-family='"Liberation Sans", sans-serif' font-size="10.4" text-anchor="middle" fill="#1a1a1a" stroke="#1a1a1a" stroke-width="0.374">50</text>
<line x1="491.27" y1="581.2" x2="491.27" y2="577.2" stroke="#4a4a4a" stroke-width="1.0"/>
<line x1="491.27" y1="324.9" x2="491.27" y2="328.9" stroke="#4a4a4a" stroke-width="1.0"/>
<text transform="translate(490.27,594.80) scale(0.5750,1.0)" font-family='"Liberation Sans", sans-serif' font-size="10.4" text-anchor="middle" fill="#1a1a1a" stroke="#1a1a1a" stroke-width="0.374">100</text>
<line x1="538.65" y1="581.2" x2="538.65" y2="577.2" stroke="#4a4a4a" stroke-width="1.0"/>
<line x1="538.65" y1="324.9" x2="538.65" y2="328.9" stroke="#4a4a4a" stroke-width="1.0"/>
<text transform="translate(537.65,594.80) scale(0.5750,1.0)" font-family='"Liberation Sans", sans-serif' font-size="10.4" text-anchor="middle" fill="#1a1a1a" stroke="#1a1a1a" stroke-width="0.374">150</text>
<line x1="586.03" y1="581.2" x2="586.03" y2="577.2" stroke="#4a4a4a" stroke-width="1.0"/>
<line x1="586.03" y1="324.9" x2="586.03" y2="328.9" stroke="#4a4a4a" stroke-width="1.0"/>
<text transform="translate(585.03,594.80) scale(0.5750,1.0)" font-family='"Liberation Sans", sans-serif' font-size="10.4" text-anchor="middle" fill="#1a1a1a" stroke="#1a1a1a" stroke-width="0.374">200</text>
<line x1="633.42" y1="581.2" x2="633.42" y2="577.2" stroke="#4a4a4a" stroke-width="1.0"/>
<line x1="633.42" y1="324.9" x2="633.42" y2="328.9" stroke="#4a4a4a" stroke-width="1.0"/>
<text transform="translate(632.42,594.80) scale(0.5750,1.0)" font-family='"Liberation Sans", sans-serif' font-size="10.4" text-anchor="middle" fill="#1a1a1a" stroke="#1a1a1a" stroke-width="0.374">250</text>
<line x1="680.80" y1="581.2" x2="680.80" y2="577.2" stroke="#4a4a4a" stroke-width="1.0"/>
<line x1="680.80" y1="324.9" x2="680.80" y2="328.9" stroke="#4a4a4a" stroke-width="1.0"/>
<text transform="translate(679.80,594.80) scale(0.5750,1.0)" font-family='"Liberation Sans", sans-serif' font-size="10.4" text-anchor="middle" fill="#1a1a1a" stroke="#1a1a1a" stroke-width="0.374">300</text>
<line x1="396.5" y1="580.90" x2="399.7" y2="580.90" stroke="#4a4a4a" stroke-width="1.0"/>
<line x1="680.8" y1="580.90" x2="677.5999999999999" y2="580.90" stroke="#4a4a4a" stroke-width="1.0"/>
<line x1="396.5" y1="575.35" x2="398.3" y2="575.35" stroke="#4a4a4a" stroke-width="0.8"/>
<line x1="680.8" y1="575.35" x2="679.0" y2="575.35" stroke="#4a4a4a" stroke-width="0.8"/>
<line x1="396.5" y1="572.10" x2="398.3" y2="572.10" stroke="#4a4a4a" stroke-width="0.8"/>
<line x1="680.8" y1="572.10" x2="679.0" y2="572.10" stroke="#4a4a4a" stroke-width="0.8"/>
<line x1="396.5" y1="569.79" x2="398.3" y2="569.79" stroke="#4a4a4a" stroke-width="0.8"/>
<line x1="680.8" y1="569.79" x2="679.0" y2="569.79" stroke="#4a4a4a" stroke-width="0.8"/>
<line x1="396.5" y1="568.00" x2="398.3" y2="568.00" stroke="#4a4a4a" stroke-width="0.8"/>
<line x1="680.8" y1="568.00" x2="679.0" y2="568.00" stroke="#4a4a4a" stroke-width="0.8"/>
<line x1="396.5" y1="566.54" x2="398.3" y2="566.54" stroke="#4a4a4a" stroke-width="0.8"/>
<line x1="680.8" y1="566.54" x2="679.0" y2="566.54" stroke="#4a4a4a" stroke-width="0.8"/>
<line x1="396.5" y1="565.31" x2="398.3" y2="565.31" stroke="#4a4a4a" stroke-width="0.8"/>
<line x1="680.8" y1="565.31" x2="679.0" y2="565.31" stroke="#4a4a4a" stroke-width="0.8"/>
<line x1="396.5" y1="564.24" x2="398.3" y2="564.24" stroke="#4a4a4a" stroke-width="0.8"/>
<line x1="680.8" y1="564.24" x2="679.0" y2="564.24" stroke="#4a4a4a" stroke-width="0.8"/>
<line x1="396.5" y1="563.29" x2="398.3" y2="563.29" stroke="#4a4a4a" stroke-width="0.8"/>
<line x1="680.8" y1="563.29" x2="679.0" y2="563.29" stroke="#4a4a4a" stroke-width="0.8"/>
<line x1="396.5" y1="562.45" x2="399.7" y2="562.45" stroke="#4a4a4a" stroke-width="1.0"/>
<line x1="680.8" y1="562.45" x2="677.5999999999999" y2="562.45" stroke="#4a4a4a" stroke-width="1.0"/>
<line x1="396.5" y1="556.90" x2="398.3" y2="556.90" stroke="#4a4a4a" stroke-width="0.8"/>
<line x1="680.8" y1="556.90" x2="679.0" y2="556.90" stroke="#4a4a4a" stroke-width="0.8"/>
<line x1="396.5" y1="553.65" x2="398.3" y2="553.65" stroke="#4a4a4a" stroke-width="0.8"/>
<line x1="680.8" y1="553.65" x2="679.0" y2="553.65" stroke="#4a4a4a" stroke-width="0.8"/>
<line x1="396.5" y1="551.34" x2="398.3" y2="551.34" stroke="#4a4a4a" stroke-width="0.8"/>
<line x1="680.8" y1="551.34" x2="679.0" y2="551.34" stroke="#4a4a4a" stroke-width="0.8"/>
<line x1="396.5" y1="549.55" x2="398.3" y2="549.55" stroke="#4a4a4a" stroke-width="0.8"/>
<line x1="680.8" y1="549.55" x2="679.0" y2="549.55" stroke="#4a4a4a" stroke-width="0.8"/>
<line x1="396.5" y1="548.09" x2="398.3" y2="548.09" stroke="#4a4a4a" stroke-width="0.8"/>
<line x1="680.8" y1="548.09" x2="679.0" y2="548.09" stroke="#4a4a4a" stroke-width="0.8"/>
<line x1="396.5" y1="546.86" x2="398.3" y2="546.86" stroke="#4a4a4a" stroke-width="0.8"/>
<line x1="680.8" y1="546.86" x2="679.0" y2="546.86" stroke="#4a4a4a" stroke-width="0.8"/>
<line x1="396.5" y1="545.79" x2="398.3" y2="545.79" stroke="#4a4a4a" stroke-width="0.8"/>
<line x1="680.8" y1="545.79" x2="679.0" y2="545.79" stroke="#4a4a4a" stroke-width="0.8"/>
<line x1="396.5" y1="544.84" x2="398.3" y2="544.84" stroke="#4a4a4a" stroke-width="0.8"/>
<line x1="680.8" y1="544.84" x2="679.0" y2="544.84" stroke="#4a4a4a" stroke-width="0.8"/>
<line x1="396.5" y1="544.00" x2="399.7" y2="544.00" stroke="#4a4a4a" stroke-width="1.0"/>
<line x1="680.8" y1="544.00" x2="677.5999999999999" y2="544.00" stroke="#4a4a4a" stroke-width="1.0"/>
<line x1="396.5" y1="538.45" x2="398.3" y2="538.45" stroke="#4a4a4a" stroke-width="0.8"/>
<line x1="680.8" y1="538.45" x2="679.0" y2="538.45" stroke="#4a4a4a" stroke-width="0.8"/>
<line x1="396.5" y1="535.20" x2="398.3" y2="535.20" stroke="#4a4a4a" stroke-width="0.8"/>
<line x1="680.8" y1="535.20" x2="679.0" y2="535.20" stroke="#4a4a4a" stroke-width="0.8"/>
<line x1="396.5" y1="532.89" x2="398.3" y2="532.89" stroke="#4a4a4a" stroke-width="0.8"/>
<line x1="680.8" y1="532.89" x2="679.0" y2="532.89" stroke="#4a4a4a" stroke-width="0.8"/>
<line x1="396.5" y1="531.10" x2="398.3" y2="531.10" stroke="#4a4a4a" stroke-width="0.8"/>
<line x1="680.8" y1="531.10" x2="679.0" y2="531.10" stroke="#4a4a4a" stroke-width="0.8"/>
<line x1="396.5" y1="529.64" x2="398.3" y2="529.64" stroke="#4a4a4a" stroke-width="0.8"/>
<line x1="680.8" y1="529.64" x2="679.0" y2="529.64" stroke="#4a4a4a" stroke-width="0.8"/>
<line x1="396.5" y1="528.41" x2="398.3" y2="528.41" stroke="#4a4a4a" stroke-width="0.8"/>
<line x1="680.8" y1="528.41" x2="679.0" y2="528.41" stroke="#4a4a4a" stroke-width="0.8"/>
<line x1="396.5" y1="527.34" x2="398.3" y2="527.34" stroke="#4a4a4a" stroke-width="0.8"/>
<line x1="680.8" y1="527.34" x2="679.0" y2="527.34" stroke="#4a4a4a" stroke-width="0.8"/>
<line x1="396.5" y1="526.39" x2="398.3" y2="526.39" stroke="#4a4a4a" stroke-width="0.8"/>
<line x1="680.8" y1="526.39" x2="679.0" y2="526.39" stroke="#4a4a4a" stroke-width="0.8"/>
<line x1="396.5" y1="525.55" x2="399.7" y2="525.55" stroke="#4a4a4a" stroke-width="1.0"/>
<line x1="680.8" y1="525.55" x2="677.5999999999999" y2="525.55" stroke="#4a4a4a" stroke-width="1.0"/>
<line x1="396.5" y1="520.00" x2="398.3" y2="520.00" stroke="#4a4a4a" stroke-width="0.8"/>
<line x1="680.8" y1="520.00" x2="679.0" y2="520.00" stroke="#4a4a4a" stroke-width="0.8"/>
<line x1="396.5" y1="516.75" x2="398.3" y2="516.75" stroke="#4a4a4a" stroke-width="0.8"/>
<line x1="680.8" y1="516.75" x2="679.0" y2="516.75" stroke="#4a4a4a" stroke-width="0.8"/>
<line x1="396.5" y1="514.44" x2="398.3" y2="514.44" stroke="#4a4a4a" stroke-width="0.8"/>
<line x1="680.8" y1="514.44" x2="679.0" y2="514.44" stroke="#4a4a4a" stroke-width="0.8"/>
<line x1="396.5" y1="512.65" x2="398.3" y2="512.65" stroke="#4a4a4a" stroke-width="0.8"/>
<line x1="680.8" y1="512.65" x2="679.0" y2="512.65" stroke="#4a4a4a" stroke-width="0.8"/>
<line x1="396.5" y1="511.19" x2="398.3" y2="511.19" stroke="#4a4a4a" stroke-width="0.8"/>
<line x1="680.8" y1="511.19" x2="679.0" y2="511.19" stroke="#4a4a4a" stroke-width="0.8"/>
<line x1="396.5" y1="509.96" x2="398.3" y2="509.96" stroke="#4a4a4a" stroke-width="0.8"/>
<line x1="680.8" y1="509.96" x2="679.0" y2="509.96" stroke="#4a4a4a" stroke-width="0.8"/>
<line x1="396.5" y1="508.89" x2="398.3" y2="508.89" stroke="#4a4a4a" stroke-width="0.8"/>
<line x1="680.8" y1="508.89" x2="679.0" y2="508.89" stroke="#4a4a4a" stroke-width="0.8"/>
<line x1="396.5" y1="507.94" x2="398.3" y2="507.94" stroke="#4a4a4a" stroke-width="0.8"/>
<line x1="680.8" y1="507.94" x2="679.0" y2="507.94" stroke="#4a4a4a" stroke-width="0.8"/>
<line x1="396.5" y1="507.10" x2="399.7" y2="507.10" stroke="#4a4a4a" stroke-width="1.0"/>
<line x1="680.8" y1="507.10" x2="677.5999999999999" y2="507.10" stroke="#4a4a4a" stroke-width="1.0"/>
<line x1="396.5" y1="501.55" x2="398.3" y2="501.55" stroke="#4a4a4a" stroke-width="0.8"/>
<line x1="680.8" y1="501.55" x2="679.0" y2="501.55" stroke="#4a4a4a" stroke-width="0.8"/>
<line x1="396.5" y1="498.30" x2="398.3" y2="498.30" stroke="#4a4a4a" stroke-width="0.8"/>
<line x1="680.8" y1="498.30" x2="679.0" y2="498.30" stroke="#4a4a4a" stroke-width="0.8"/>
<line x1="396.5" y1="495.99" x2="398.3" y2="495.99" stroke="#4a4a4a" stroke-width="0.8"/>
<line x1="680.8" y1="495.99" x2="679.0" y2="495.99" stroke="#4a4a4a" stroke-width="0.8"/>
<line x1="396.5" y1="494.20" x2="398.3" y2="494.20" stroke="#4a4a4a" stroke-width="0.8"/>
<line x1="680.8" y1="494.20" x2="679.0" y2="494.20" stroke="#4a4a4a" stroke-width="0.8"/>
<line x1="396.5" y1="492.74" x2="398.3" y2="492.74" stroke="#4a4a4a" stroke-width="0.8"/>
<line x1="680.8" y1="492.74" x2="679.0" y2="492.74" stroke="#4a4a4a" stroke-width="0.8"/>
<line x1="396.5" y1="491.51" x2="398.3" y2="491.51" stroke="#4a4a4a" stroke-width="0.8"/>
<line x1="680.8" y1="491.51" x2="679.0" y2="491.51" stroke="#4a4a4a" stroke-width="0.8"/>
<line x1="396.5" y1="490.44" x2="398.3" y2="490.44" stroke="#4a4a4a" stroke-width="0.8"/>
<line x1="680.8" y1="490.44" x2="679.0" y2="490.44" stroke="#4a4a4a" stroke-width="0.8"/>
<line x1="396.5" y1="489.49" x2="398.3" y2="489.49" stroke="#4a4a4a" stroke-width="0.8"/>
<line x1="680.8" y1="489.49" x2="679.0" y2="489.49" stroke="#4a4a4a" stroke-width="0.8"/>
<line x1="396.5" y1="488.65" x2="399.7" y2="488.65" stroke="#4a4a4a" stroke-width="1.0"/>
<line x1="680.8" y1="488.65" x2="677.5999999999999" y2="488.65" stroke="#4a4a4a" stroke-width="1.0"/>
<line x1="396.5" y1="483.10" x2="398.3" y2="483.10" stroke="#4a4a4a" stroke-width="0.8"/>
<line x1="680.8" y1="483.10" x2="679.0" y2="483.10" stroke="#4a4a4a" stroke-width="0.8"/>
<line x1="396.5" y1="479.85" x2="398.3" y2="479.85" stroke="#4a4a4a" stroke-width="0.8"/>
<line x1="680.8" y1="479.85" x2="679.0" y2="479.85" stroke="#4a4a4a" stroke-width="0.8"/>
<line x1="396.5" y1="477.54" x2="398.3" y2="477.54" stroke="#4a4a4a" stroke-width="0.8"/>
<line x1="680.8" y1="477.54" x2="679.0" y2="477.54" stroke="#4a4a4a" stroke-width="0.8"/>
<line x1="396.5" y1="475.75" x2="398.3" y2="475.75" stroke="#4a4a4a" stroke-width="0.8"/>
<line x1="680.8" y1="475.75" x2="679.0" y2="475.75" stroke="#4a4a4a" stroke-width="0.8"/>
<line x1="396.5" y1="474.29" x2="398.3" y2="474.29" stroke="#4a4a4a" stroke-width="0.8"/>
<line x1="680.8" y1="474.29" x2="679.0" y2="474.29" stroke="#4a4a4a" stroke-width="0.8"/>
<line x1="396.5" y1="473.06" x2="398.3" y2="473.06" stroke="#4a4a4a" stroke-width="0.8"/>
<line x1="680.8" y1="473.06" x2="679.0" y2="473.06" stroke="#4a4a4a" stroke-width="0.8"/>
<line x1="396.5" y1="471.99" x2="398.3" y2="471.99" stroke="#4a4a4a" stroke-width="0.8"/>
<line x1="680.8" y1="471.99" x2="679.0" y2="471.99" stroke="#4a4a4a" stroke-width="0.8"/>
<line x1="396.5" y1="471.04" x2="398.3" y2="471.04" stroke="#4a4a4a" stroke-width="0.8"/>
<line x1="680.8" y1="471.04" x2="679.0" y2="471.04" stroke="#4a4a4a" stroke-width="0.8"/>
<line x1="396.5" y1="470.20" x2="399.7" y2="470.20" stroke="#4a4a4a" stroke-width="1.0"/>
<line x1="680.8" y1="470.20" x2="677.5999999999999" y2="470.20" stroke="#4a4a4a" stroke-width="1.0"/>
<line x1="680.8" y1="464.65" x2="679.0" y2="464.65" stroke="#4a4a4a" stroke-width="0.8"/>
<line x1="680.8" y1="461.40" x2="679.0" y2="461.40" stroke="#4a4a4a" stroke-width="0.8"/>
<line x1="680.8" y1="459.09" x2="679.0" y2="459.09" stroke="#4a4a4a" stroke-width="0.8"/>
<line x1="680.8" y1="457.30" x2="679.0" y2="457.30" stroke="#4a4a4a" stroke-width="0.8"/>
<line x1="680.8" y1="455.84" x2="679.0" y2="455.84" stroke="#4a4a4a" stroke-width="0.8"/>
<line x1="680.8" y1="454.61" x2="679.0" y2="454.61" stroke="#4a4a4a" stroke-width="0.8"/>
<line x1="680.8" y1="453.54" x2="679.0" y2="453.54" stroke="#4a4a4a" stroke-width="0.8"/>
<line x1="680.8" y1="452.59" x2="679.0" y2="452.59" stroke="#4a4a4a" stroke-width="0.8"/>
<line x1="680.8" y1="451.75" x2="677.5999999999999" y2="451.75" stroke="#4a4a4a" stroke-width="1.0"/>
<line x1="680.8" y1="446.20" x2="679.0" y2="446.20" stroke="#4a4a4a" stroke-width="0.8"/>
<line x1="680.8" y1="442.95" x2="679.0" y2="442.95" stroke="#4a4a4a" stroke-width="0.8"/>
<line x1="680.8" y1="440.64" x2="679.0" y2="440.64" stroke="#4a4a4a" stroke-width="0.8"/>
<line x1="680.8" y1="438.85" x2="679.0" y2="438.85" stroke="#4a4a4a" stroke-width="0.8"/>
<line x1="680.8" y1="437.39" x2="679.0" y2="437.39" stroke="#4a4a4a" stroke-width="0.8"/>
<line x1="680.8" y1="436.16" x2="679.0" y2="436.16" stroke="#4a4a4a" stroke-width="0.8"/>
<line x1="680.8" y1="435.09" x2="679.0" y2="435.09" stroke="#4a4a4a" stroke-width="0.8"/>
<line x1="680.8" y1="434.14" x2="679.0" y2="434.14" stroke="#4a4a4a" stroke-width="0.8"/>
<line x1="680.8" y1="433.30" x2="677.5999999999999" y2="433.30" stroke="#4a4a4a" stroke-width="1.0"/>
<line x1="680.8" y1="427.75" x2="679.0" y2="427.75" stroke="#4a4a4a" stroke-width="0.8"/>
<line x1="680.8" y1="424.50" x2="679.0" y2="424.50" stroke="#4a4a4a" stroke-width="0.8"/>
<line x1="680.8" y1="422.19" x2="679.0" y2="422.19" stroke="#4a4a4a" stroke-width="0.8"/>
<line x1="680.8" y1="420.40" x2="679.0" y2="420.40" stroke="#4a4a4a" stroke-width="0.8"/>
<line x1="680.8" y1="418.94" x2="679.0" y2="418.94" stroke="#4a4a4a" stroke-width="0.8"/>
<line x1="680.8" y1="417.71" x2="679.0" y2="417.71" stroke="#4a4a4a" stroke-width="0.8"/>
<line x1="680.8" y1="416.64" x2="679.0" y2="416.64" stroke="#4a4a4a" stroke-width="0.8"/>
<line x1="680.8" y1="415.69" x2="679.0" y2="415.69" stroke="#4a4a4a" stroke-width="0.8"/>
<line x1="680.8" y1="414.85" x2="677.5999999999999" y2="414.85" stroke="#4a4a4a" stroke-width="1.0"/>
<line x1="680.8" y1="409.30" x2="679.0" y2="409.30" stroke="#4a4a4a" stroke-width="0.8"/>
<line x1="680.8" y1="406.05" x2="679.0" y2="406.05" stroke="#4a4a4a" stroke-width="0.8"/>
<line x1="680.8" y1="403.74" x2="679.0" y2="403.74" stroke="#4a4a4a" stroke-width="0.8"/>
<line x1="680.8" y1="401.95" x2="679.0" y2="401.95" stroke="#4a4a4a" stroke-width="0.8"/>
<line x1="680.8" y1="400.49" x2="679.0" y2="400.49" stroke="#4a4a4a" stroke-width="0.8"/>
<line x1="680.8" y1="399.26" x2="679.0" y2="399.26" stroke="#4a4a4a" stroke-width="0.8"/>
<line x1="680.8" y1="398.19" x2="679.0" y2="398.19" stroke="#4a4a4a" stroke-width="0.8"/>
<line x1="680.8" y1="397.24" x2="679.0" y2="397.24" stroke="#4a4a4a" stroke-width="0.8"/>
<line x1="680.8" y1="396.40" x2="677.5999999999999" y2="396.40" stroke="#4a4a4a" stroke-width="1.0"/>
<line x1="680.8" y1="390.85" x2="679.0" y2="390.85" stroke="#4a4a4a" stroke-width="0.8"/>
<line x1="680.8" y1="387.60" x2="679.0" y2="387.60" stroke="#4a4a4a" stroke-width="0.8"/>
<line x1="680.8" y1="385.29" x2="679.0" y2="385.29" stroke="#4a4a4a" stroke-width="0.8"/>
<line x1="680.8" y1="383.50" x2="679.0" y2="383.50" stroke="#4a4a4a" stroke-width="0.8"/>
<line x1="680.8" y1="382.04" x2="679.0" y2="382.04" stroke="#4a4a4a" stroke-width="0.8"/>
<line x1="680.8" y1="380.81" x2="679.0" y2="380.81" stroke="#4a4a4a" stroke-width="0.8"/>
<line x1="680.8" y1="379.74" x2="679.0" y2="379.74" stroke="#4a4a4a" stroke-width="0.8"/>
<line x1="680.8" y1="378.79" x2="679.0" y2="378.79" stroke="#4a4a4a" stroke-width="0.8"/>
<line x1="680.8" y1="377.95" x2="677.5999999999999" y2="377.95" stroke="#4a4a4a" stroke-width="1.0"/>
<line x1="680.8" y1="372.40" x2="679.0" y2="372.40" stroke="#4a4a4a" stroke-width="0.8"/>
<line x1="680.8" y1="369.15" x2="679.0" y2="369.15" stroke="#4a4a4a" stroke-width="0.8"/>
<line x1="680.8" y1="366.84" x2="679.0" y2="366.84" stroke="#4a4a4a" stroke-width="0.8"/>
<line x1="680.8" y1="365.05" x2="679.0" y2="365.05" stroke="#4a4a4a" stroke-width="0.8"/>
<line x1="680.8" y1="363.59" x2="679.0" y2="363.59" stroke="#4a4a4a" stroke-width="0.8"/>
<line x1="680.8" y1="362.36" x2="679.0" y2="362.36" stroke="#4a4a4a" stroke-width="0.8"/>
<line x1="680.8" y1="361.29" x2="679.0" y2="361.29" stroke="#4a4a4a" stroke-width="0.8"/>
<line x1="680.8" y1="360.34" x2="679.0" y2="360.34" stroke="#4a4a4a" stroke-width="0.8"/>
<line x1="680.8" y1="359.50" x2="677.5999999999999" y2="359.50" stroke="#4a4a4a" stroke-width="1.0"/>
<line x1="680.8" y1="353.95" x2="679.0" y2="353.95" stroke="#4a4a4a" stroke-width="0.8"/>
<line x1="680.8" y1="350.70" x2="679.0" y2="350.70" stroke="#4a4a4a" stroke-width="0.8"/>
<line x1="680.8" y1="348.39" x2="679.0" y2="348.39" stroke="#4a4a4a" stroke-width="0.8"/>
<line x1="680.8" y1="346.60" x2="679.0" y2="346.60" stroke="#4a4a4a" stroke-width="0.8"/>
<line x1="680.8" y1="345.14" x2="679.0" y2="345.14" stroke="#4a4a4a" stroke-width="0.8"/>
<line x1="680.8" y1="343.91" x2="679.0" y2="343.91" stroke="#4a4a4a" stroke-width="0.8"/>
<line x1="680.8" y1="342.84" x2="679.0" y2="342.84" stroke="#4a4a4a" stroke-width="0.8"/>
<line x1="680.8" y1="341.89" x2="679.0" y2="341.89" stroke="#4a4a4a" stroke-width="0.8"/>
<line x1="680.8" y1="341.05" x2="677.5999999999999" y2="341.05" stroke="#4a4a4a" stroke-width="1.0"/>
<line x1="680.8" y1="335.50" x2="679.0" y2="335.50" stroke="#4a4a4a" stroke-width="0.8"/>
<line x1="680.8" y1="332.25" x2="679.0" y2="332.25" stroke="#4a4a4a" stroke-width="0.8"/>
<line x1="680.8" y1="329.94" x2="679.0" y2="329.94" stroke="#4a4a4a" stroke-width="0.8"/>
<line x1="680.8" y1="328.15" x2="679.0" y2="328.15" stroke="#4a4a4a" stroke-width="0.8"/>
<line x1="680.8" y1="326.69" x2="679.0" y2="326.69" stroke="#4a4a4a" stroke-width="0.8"/>
<line x1="680.8" y1="325.46" x2="679.0" y2="325.46" stroke="#4a4a4a" stroke-width="0.8"/>
<path d="M396.50,470.20 L398.00,377.00 L399.00,442.50 L399.80,371.70" fill="none" stroke="#ff0000" stroke-width="2.0" stroke-linejoin="round" clip-path="url(#c324)"/>
<path d="M399.80,371.70 L401.78,377.71 L403.75,383.56 L405.73,389.27 L407.71,394.88 L409.69,400.40 L411.67,405.84 L413.64,411.23 L415.62,416.57 L417.60,421.86 L419.57,427.13 L421.55,432.36 L423.53,437.58 L425.51,442.77 L427.49,447.95 L429.46,453.12 L431.44,458.28 L433.42,463.43 L435.39,468.57 L437.37,473.71 L439.35,478.84 L441.33,483.97 L443.31,489.10 L445.28,494.22 L447.26,499.34 L449.24,504.46 L451.21,509.58 L453.19,514.70 L455.17,519.81 L457.15,524.93 L459.12,530.04 L461.10,535.16 L463.08,540.27 L465.06,545.38 L467.03,550.50 L469.01,555.61 L470.99,560.72 L472.97,565.83 L474.94,570.95 L476.92,576.06 L478.90,581.17" fill="none" stroke="#ff0000" stroke-width="1.6" stroke-linejoin="round" clip-path="url(#c324)"/>
<path d="M396.50,470.20 L397.30,342.00" fill="none" stroke="#0000ff" stroke-width="2.0" stroke-linejoin="round" clip-path="url(#c324)"/>
<path d="M397.30,342.00 L398.60,348.10 L522.50,581.00" fill="none" stroke="#0000ff" stroke-width="2.0" stroke-dasharray="3.3 1.0 0.35 0.9" stroke-linejoin="round" clip-path="url(#c324)"/>
<path d="M396.50,470.20 L397.00,327.90 L398.60,346.20" fill="none" stroke="#987821" stroke-width="1.9" stroke-linejoin="round" clip-path="url(#c324)"/>
<path d="M398.60,346.20 L661.80,581.20" fill="none" stroke="#987821" stroke-width="1.9" stroke-dasharray="3.5 0.85 0.45 0.8" stroke-linejoin="round" clip-path="url(#c324)"/>
<text transform="translate(393.80,581.70) scale(0.6200,1.0)" font-family='"Liberation Sans", sans-serif' font-size="8.2" text-anchor="end" fill="#1a1a1a" stroke="#1a1a1a" stroke-width="0.295">-6</text>
<text transform="translate(388.38,586.50) scale(0.5800,1.0)" font-family='"Liberation Sans", sans-serif' font-size="10.4" text-anchor="end" fill="#1a1a1a" stroke="#1a1a1a" stroke-width="0.374">10</text>
<text transform="translate(393.80,544.80) scale(0.6200,1.0)" font-family='"Liberation Sans", sans-serif' font-size="8.2" text-anchor="end" fill="#1a1a1a" stroke="#1a1a1a" stroke-width="0.295">-4</text>
<text transform="translate(388.38,549.60) scale(0.5800,1.0)" font-family='"Liberation Sans", sans-serif' font-size="10.4" text-anchor="end" fill="#1a1a1a" stroke="#1a1a1a" stroke-width="0.374">10</text>
<text transform="translate(393.80,507.90) scale(0.6200,1.0)" font-family='"Liberation Sans", sans-serif' font-size="8.2" text-anchor="end" fill="#1a1a1a" stroke="#1a1a1a" stroke-width="0.295">-2</text>
<text transform="translate(388.38,512.70) scale(0.5800,1.0)" font-family='"Liberation Sans", sans-serif' font-size="10.4" text-anchor="end" fill="#1a1a1a" stroke="#1a1a1a" stroke-width="0.374">10</text>
<text transform="translate(393.80,471.00) scale(0.6200,1.0)" font-family='"Liberation Sans", sans-serif' font-size="8.2" text-anchor="end" fill="#1a1a1a" stroke="#1a1a1a" stroke-width="0.295">0</text>
<text transform="translate(390.07,475.80) scale(0.5800,1.0)" font-family='"Liberation Sans", sans-serif' font-size="10.4" text-anchor="end" fill="#1a1a1a" stroke="#1a1a1a" stroke-width="0.374">10</text>
<text transform="translate(393.80,434.10) scale(0.6200,1.0)" font-family='"Liberation Sans", sans-serif' font-size="8.2" text-anchor="end" fill="#1a1a1a" stroke="#1a1a1a" stroke-width="0.295">2</text>
<text transform="translate(390.07,438.90) scale(0.5800,1.0)" font-family='"Liberation Sans", sans-serif' font-size="10.4" text-anchor="end" fill="#1a1a1a" stroke="#1a1a1a" stroke-width="0.374">10</text>
<text transform="translate(393.80,397.20) scale(0.6200,1.0)" font-family='"Liberation Sans", sans-serif' font-size="8.2" text-anchor="end" fill="#1a1a1a" stroke="#1a1a1a" stroke-width="0.295">4</text>
<text transform="translate(390.07,402.00) scale(0.5800,1.0)" font-family='"Liberation Sans", sans-serif' font-size="10.4" text-anchor="end" fill="#1a1a1a" stroke="#1a1a1a" stroke-width="0.374">10</text>
<text transform="translate(393.80,360.30) scale(0.6200,1.0)" font-family='"Liberation Sans", sans-serif' font-size="8.2" text-anchor="end" fill="#1a1a1a" stroke="#1a1a1a" stroke-width="0.295">6</text>
<text transform="translate(390.07,365.10) scale(0.5800,1.0)" font-family='"Liberation Sans", sans-serif' font-size="10.4" text-anchor="end" fill="#1a1a1a" stroke="#1a1a1a" stroke-width="0.374">10</text>
<text transform="translate(534.00,608.00) scale(0.6450,1.0)" font-family='"Liberation Sans", sans-serif' font-size="10.4" text-anchor="middle" fill="#1a1a1a" stroke="#1a1a1a" stroke-width="0.374">Number of iterations</text>
<text transform="translate(378.0,457.1) rotate(-90) scale(1,0.8)" font-family='"Liberation Serif", serif' font-style="italic" font-size="10.0" fill="#4a4a4a" stroke="#4a4a4a" stroke-width="0.2">e<tspan font-size="7.0" dy="1.4">t</tspan></text>
<rect x="638.8" y="333.2" width="36.60000000000002" height="35.10000000000002" fill="#fff" stroke="#4a4a4a" stroke-width="0.7"/>
<line x1="640.1999999999999" y1="339.30" x2="652.4" y2="339.30" stroke="#ff0000" stroke-width="1.6"/>
<text transform="translate(652.60,342.30) scale(0.5919,1.0)" font-family='"Liberation Sans", sans-serif' font-size="9.4" text-anchor="start" fill="#000" stroke="#000" stroke-width="0.338">YAS Alg</text>
<line x1="640.1999999999999" y1="350.90" x2="652.4" y2="350.90" stroke="#0000ff" stroke-width="1.5" stroke-dasharray="3.3 0.9 0.9 0.9"/>
<text transform="translate(652.60,353.90) scale(0.5713,1.0)" font-family='"Liberation Sans", sans-serif' font-size="9.4" text-anchor="start" fill="#000" stroke="#000" stroke-width="0.338">BCV Alg</text>
<line x1="640.1999999999999" y1="362.20" x2="652.4" y2="362.20" stroke="#987821" stroke-width="1.2" stroke-dasharray="3.3 0.9 0.9 0.9"/>
<text transform="translate(652.60,365.20) scale(0.5799,1.0)" font-family='"Liberation Sans", sans-serif' font-size="9.4" text-anchor="start" fill="#000" stroke="#000" stroke-width="0.338">BSV Alg</text>
</svg></body></html>
